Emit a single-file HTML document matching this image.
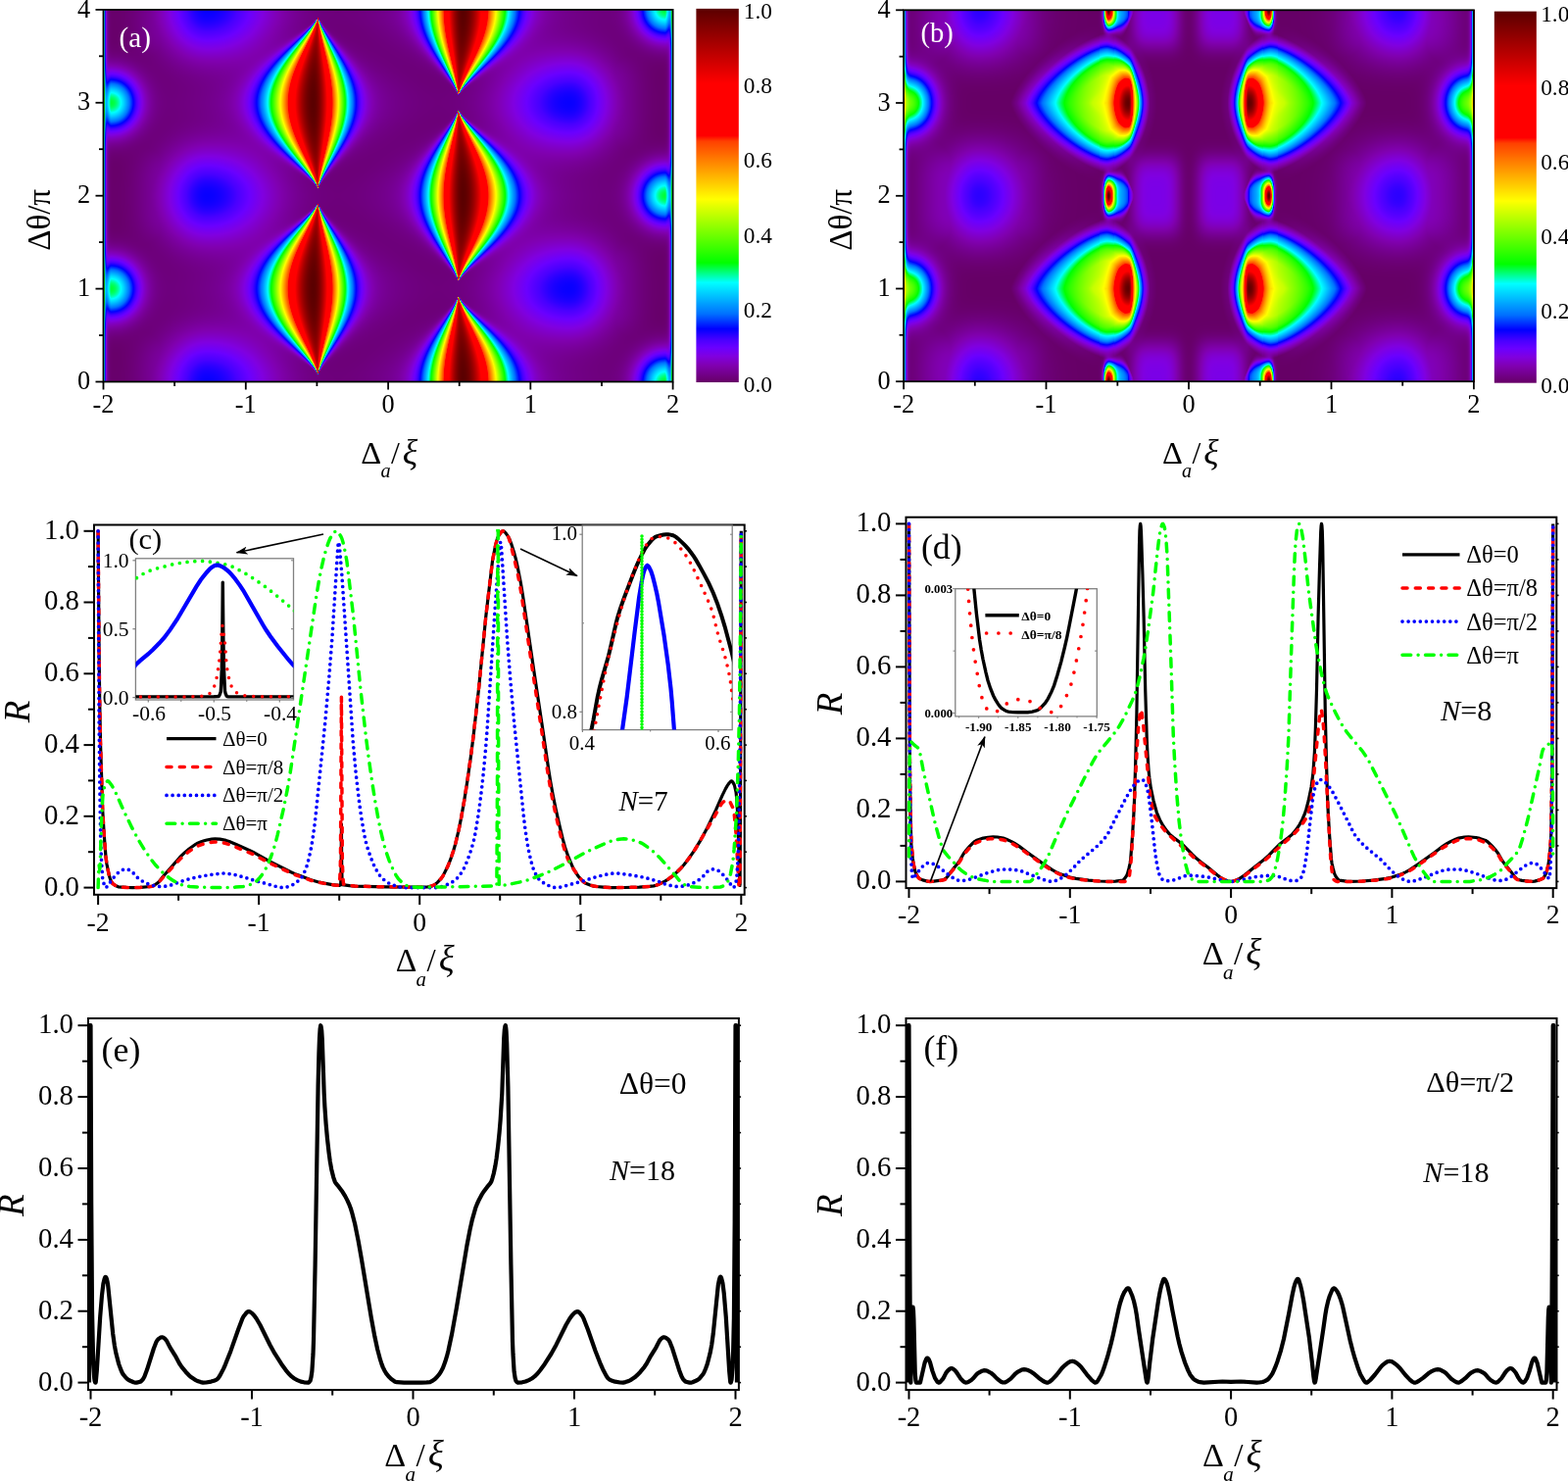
<!DOCTYPE html>
<html><head><meta charset="utf-8"><title>figure</title>
<style>
html,body{margin:0;padding:0;background:#fff;}
body{width:1600px;height:1511px;position:relative;overflow:hidden;}
canvas{position:absolute;background:#660066;}
</style></head><body>
<canvas id="ha" width="582" height="381" style="left:105px;top:9px;width:582px;height:381px"></canvas>
<canvas id="hb" width="583" height="380" style="left:922px;top:10px;width:583px;height:380px"></canvas>
<svg xmlns="http://www.w3.org/2000/svg" width="1600" height="1511" viewBox="0 0 1600 1511" style="position:absolute;left:0;top:0" font-family="'Liberation Serif','Times New Roman',serif">
<defs><linearGradient id="cb" x1="0" y1="1" x2="0" y2="0"><stop offset="0.0" stop-color="#660066"/><stop offset="0.045" stop-color="#8000b0"/><stop offset="0.07" stop-color="#8000e0"/><stop offset="0.093" stop-color="#6a00ff"/><stop offset="0.114" stop-color="#4800ff"/><stop offset="0.143" stop-color="#0000ff"/><stop offset="0.183" stop-color="#0070ff"/><stop offset="0.267" stop-color="#00ffff"/><stop offset="0.32" stop-color="#00ff00"/><stop offset="0.49" stop-color="#ffff00"/><stop offset="0.645" stop-color="#ff4000"/><stop offset="0.66" stop-color="#ff0000"/><stop offset="0.8" stop-color="#ff0000"/><stop offset="1.0" stop-color="#5a0000"/></linearGradient>
<clipPath id="kc"><rect x="96" y="535.5" width="663.7" height="377.3"/></clipPath>
<clipPath id="kd"><rect x="924.5" y="527.7" width="663.8" height="378.4"/></clipPath>
<clipPath id="ke"><rect x="90" y="1039" width="663.9" height="379.1"/></clipPath>
<clipPath id="kf"><rect x="924.5" y="1039" width="664" height="379.1"/></clipPath>
<clipPath id="icl"><rect x="138.4" y="569.8" width="161.1" height="144.2"/></clipPath>
<clipPath id="icr"><rect x="594.2" y="536.1" width="153" height="208.5"/></clipPath>
<clipPath id="id"><rect x="974.8" y="600.7" width="144.5" height="130.2"/></clipPath>
<marker id="ah" viewBox="0 0 12 8" refX="11" refY="4" markerWidth="12" markerHeight="8" markerUnits="userSpaceOnUse" orient="auto"><path d="M0,0 L12,4 L0,8 L3,4 Z" fill="#000"/></marker>
</defs>
<rect x="710.4" y="8.85" width="43.4" height="381.2" fill="url(#cb)"/>
<text x="758.8" y="400.1" font-size="23.3" text-anchor="start" fill="#000" >0.0</text>
<text x="758.8" y="323.9" font-size="23.3" text-anchor="start" fill="#000" >0.2</text>
<text x="758.8" y="247.6" font-size="23.3" text-anchor="start" fill="#000" >0.4</text>
<text x="758.8" y="171.4" font-size="23.3" text-anchor="start" fill="#000" >0.6</text>
<text x="758.8" y="95.1" font-size="23.3" text-anchor="start" fill="#000" >0.8</text>
<text x="758.8" y="18.9" font-size="23.3" text-anchor="start" fill="#000" >1.0</text>
<rect x="1524.8" y="11.6" width="43" height="379.1" fill="url(#cb)"/>
<text x="1572.2" y="400.8" font-size="23.3" text-anchor="start" fill="#000" >0.0</text>
<text x="1572.2" y="324.9" font-size="23.3" text-anchor="start" fill="#000" >0.2</text>
<text x="1572.2" y="249.1" font-size="23.3" text-anchor="start" fill="#000" >0.4</text>
<text x="1572.2" y="173.3" font-size="23.3" text-anchor="start" fill="#000" >0.6</text>
<text x="1572.2" y="97.4" font-size="23.3" text-anchor="start" fill="#000" >0.8</text>
<text x="1572.2" y="21.6" font-size="23.3" text-anchor="start" fill="#000" >1.0</text>
<rect x="105.5" y="9.9" width="581.1" height="379.6" fill="none" stroke="#000" stroke-width="1.8"/>
<line x1="97.5" y1="389.5" x2="105.5" y2="389.5" stroke="#000" stroke-width="1.8" />
<text x="92.1" y="397.1" font-size="26.3" text-anchor="end" fill="#000" >0</text>
<line x1="97.5" y1="294.6" x2="105.5" y2="294.6" stroke="#000" stroke-width="1.8" />
<text x="92.1" y="302.2" font-size="26.3" text-anchor="end" fill="#000" >1</text>
<line x1="97.5" y1="199.7" x2="105.5" y2="199.7" stroke="#000" stroke-width="1.8" />
<text x="92.1" y="207.3" font-size="26.3" text-anchor="end" fill="#000" >2</text>
<line x1="97.5" y1="104.8" x2="105.5" y2="104.8" stroke="#000" stroke-width="1.8" />
<text x="92.1" y="112.4" font-size="26.3" text-anchor="end" fill="#000" >3</text>
<line x1="97.5" y1="9.9" x2="105.5" y2="9.9" stroke="#000" stroke-width="1.8" />
<text x="92.1" y="17.5" font-size="26.3" text-anchor="end" fill="#000" >4</text>
<line x1="101" y1="342.1" x2="105.5" y2="342.1" stroke="#000" stroke-width="1.8" />
<line x1="101" y1="247.1" x2="105.5" y2="247.1" stroke="#000" stroke-width="1.8" />
<line x1="101" y1="152.2" x2="105.5" y2="152.2" stroke="#000" stroke-width="1.8" />
<line x1="101" y1="57.3" x2="105.5" y2="57.3" stroke="#000" stroke-width="1.8" />
<line x1="105.5" y1="389.5" x2="105.5" y2="397.5" stroke="#000" stroke-width="1.8" />
<text x="105.5" y="420.9" font-size="26.3" text-anchor="middle" fill="#000" >-2</text>
<line x1="250.8" y1="389.5" x2="250.8" y2="397.5" stroke="#000" stroke-width="1.8" />
<text x="250.8" y="420.9" font-size="26.3" text-anchor="middle" fill="#000" >-1</text>
<line x1="396.1" y1="389.5" x2="396.1" y2="397.5" stroke="#000" stroke-width="1.8" />
<text x="396.1" y="420.9" font-size="26.3" text-anchor="middle" fill="#000" >0</text>
<line x1="541.3" y1="389.5" x2="541.3" y2="397.5" stroke="#000" stroke-width="1.8" />
<text x="541.3" y="420.9" font-size="26.3" text-anchor="middle" fill="#000" >1</text>
<line x1="686.6" y1="389.5" x2="686.6" y2="397.5" stroke="#000" stroke-width="1.8" />
<text x="686.6" y="420.9" font-size="26.3" text-anchor="middle" fill="#000" >2</text>
<line x1="178.1" y1="389.5" x2="178.1" y2="394" stroke="#000" stroke-width="1.8" />
<line x1="323.4" y1="389.5" x2="323.4" y2="394" stroke="#000" stroke-width="1.8" />
<line x1="468.7" y1="389.5" x2="468.7" y2="394" stroke="#000" stroke-width="1.8" />
<line x1="614" y1="389.5" x2="614" y2="394" stroke="#000" stroke-width="1.8" />
<rect x="922.1" y="10.3" width="581.8" height="378.9" fill="none" stroke="#000" stroke-width="1.8"/>
<line x1="914.1" y1="389.2" x2="922.1" y2="389.2" stroke="#000" stroke-width="1.8" />
<text x="908.7" y="396.8" font-size="26.3" text-anchor="end" fill="#000" >0</text>
<line x1="914.1" y1="294.5" x2="922.1" y2="294.5" stroke="#000" stroke-width="1.8" />
<text x="908.7" y="302.1" font-size="26.3" text-anchor="end" fill="#000" >1</text>
<line x1="914.1" y1="199.8" x2="922.1" y2="199.8" stroke="#000" stroke-width="1.8" />
<text x="908.7" y="207.3" font-size="26.3" text-anchor="end" fill="#000" >2</text>
<line x1="914.1" y1="105" x2="922.1" y2="105" stroke="#000" stroke-width="1.8" />
<text x="908.7" y="112.6" font-size="26.3" text-anchor="end" fill="#000" >3</text>
<line x1="914.1" y1="10.3" x2="922.1" y2="10.3" stroke="#000" stroke-width="1.8" />
<text x="908.7" y="17.9" font-size="26.3" text-anchor="end" fill="#000" >4</text>
<line x1="917.6" y1="341.8" x2="922.1" y2="341.8" stroke="#000" stroke-width="1.8" />
<line x1="917.6" y1="247.1" x2="922.1" y2="247.1" stroke="#000" stroke-width="1.8" />
<line x1="917.6" y1="152.4" x2="922.1" y2="152.4" stroke="#000" stroke-width="1.8" />
<line x1="917.6" y1="57.7" x2="922.1" y2="57.7" stroke="#000" stroke-width="1.8" />
<line x1="922.1" y1="389.2" x2="922.1" y2="397.2" stroke="#000" stroke-width="1.8" />
<text x="922.1" y="420.9" font-size="26.3" text-anchor="middle" fill="#000" >-2</text>
<line x1="1067.5" y1="389.2" x2="1067.5" y2="397.2" stroke="#000" stroke-width="1.8" />
<text x="1067.5" y="420.9" font-size="26.3" text-anchor="middle" fill="#000" >-1</text>
<line x1="1213" y1="389.2" x2="1213" y2="397.2" stroke="#000" stroke-width="1.8" />
<text x="1213" y="420.9" font-size="26.3" text-anchor="middle" fill="#000" >0</text>
<line x1="1358.5" y1="389.2" x2="1358.5" y2="397.2" stroke="#000" stroke-width="1.8" />
<text x="1358.5" y="420.9" font-size="26.3" text-anchor="middle" fill="#000" >1</text>
<line x1="1503.9" y1="389.2" x2="1503.9" y2="397.2" stroke="#000" stroke-width="1.8" />
<text x="1503.9" y="420.9" font-size="26.3" text-anchor="middle" fill="#000" >2</text>
<line x1="994.8" y1="389.2" x2="994.8" y2="393.7" stroke="#000" stroke-width="1.8" />
<line x1="1140.3" y1="389.2" x2="1140.3" y2="393.7" stroke="#000" stroke-width="1.8" />
<line x1="1285.7" y1="389.2" x2="1285.7" y2="393.7" stroke="#000" stroke-width="1.8" />
<line x1="1431.2" y1="389.2" x2="1431.2" y2="393.7" stroke="#000" stroke-width="1.8" />
<text x="121.5" y="47.6" font-size="29.2" text-anchor="start" fill="#fff" >(a)</text>
<text x="939.5" y="42.8" font-size="28.6" text-anchor="start" fill="#fff" >(b)</text>
<text transform="translate(51,224.4) rotate(-90)" font-size="33" text-anchor="middle">&#916;&#952;/&#960;</text>
<text transform="translate(868.7,224.4) rotate(-90)" font-size="33" text-anchor="middle">&#916;&#952;/&#960;</text>
<text x="368.2" y="472.8" font-size="32.6">&#916;</text>
<text x="388.4" y="487.1" font-size="20.2" font-style="italic">a</text>
<text x="398.9" y="472.8" font-size="31.9">/</text>
<text x="410.8" y="472.8" font-size="35.9" font-style="italic">&#958;</text>
<text x="1185.9" y="472.8" font-size="32.4">&#916;</text>
<text x="1205.9" y="487.1" font-size="20.1" font-style="italic">a</text>
<text x="1216.4" y="472.8" font-size="31.8">/</text>
<text x="1228.2" y="472.8" font-size="35.6" font-style="italic">&#958;</text>
<line x1="85.5" y1="905.6" x2="96" y2="905.6" stroke="#000" stroke-width="2.0" />
<text x="81" y="913.5" font-size="28.8" text-anchor="end" fill="#000" >0.0</text>
<line x1="85.5" y1="832.8" x2="96" y2="832.8" stroke="#000" stroke-width="2.0" />
<text x="81" y="840.7" font-size="28.8" text-anchor="end" fill="#000" >0.2</text>
<line x1="85.5" y1="760.1" x2="96" y2="760.1" stroke="#000" stroke-width="2.0" />
<text x="81" y="768" font-size="28.8" text-anchor="end" fill="#000" >0.4</text>
<line x1="85.5" y1="687.3" x2="96" y2="687.3" stroke="#000" stroke-width="2.0" />
<text x="81" y="695.2" font-size="28.8" text-anchor="end" fill="#000" >0.6</text>
<line x1="85.5" y1="614.5" x2="96" y2="614.5" stroke="#000" stroke-width="2.0" />
<text x="81" y="622.4" font-size="28.8" text-anchor="end" fill="#000" >0.8</text>
<line x1="85.5" y1="541.8" x2="96" y2="541.8" stroke="#000" stroke-width="2.0" />
<text x="81" y="549.6" font-size="28.8" text-anchor="end" fill="#000" >1.0</text>
<line x1="90" y1="869.2" x2="96" y2="869.2" stroke="#000" stroke-width="2.0" />
<line x1="90" y1="796.4" x2="96" y2="796.4" stroke="#000" stroke-width="2.0" />
<line x1="90" y1="723.7" x2="96" y2="723.7" stroke="#000" stroke-width="2.0" />
<line x1="90" y1="650.9" x2="96" y2="650.9" stroke="#000" stroke-width="2.0" />
<line x1="90" y1="578.1" x2="96" y2="578.1" stroke="#000" stroke-width="2.0" />
<line x1="914" y1="899.4" x2="924.5" y2="899.4" stroke="#000" stroke-width="2.0" />
<text x="909.5" y="907.3" font-size="28.8" text-anchor="end" fill="#000" >0.0</text>
<line x1="914" y1="826.4" x2="924.5" y2="826.4" stroke="#000" stroke-width="2.0" />
<text x="909.5" y="834.3" font-size="28.8" text-anchor="end" fill="#000" >0.2</text>
<line x1="914" y1="753.4" x2="924.5" y2="753.4" stroke="#000" stroke-width="2.0" />
<text x="909.5" y="761.3" font-size="28.8" text-anchor="end" fill="#000" >0.4</text>
<line x1="914" y1="680.4" x2="924.5" y2="680.4" stroke="#000" stroke-width="2.0" />
<text x="909.5" y="688.3" font-size="28.8" text-anchor="end" fill="#000" >0.6</text>
<line x1="914" y1="607.4" x2="924.5" y2="607.4" stroke="#000" stroke-width="2.0" />
<text x="909.5" y="615.3" font-size="28.8" text-anchor="end" fill="#000" >0.8</text>
<line x1="914" y1="534.4" x2="924.5" y2="534.4" stroke="#000" stroke-width="2.0" />
<text x="909.5" y="542.3" font-size="28.8" text-anchor="end" fill="#000" >1.0</text>
<line x1="918.5" y1="862.9" x2="924.5" y2="862.9" stroke="#000" stroke-width="2.0" />
<line x1="918.5" y1="789.9" x2="924.5" y2="789.9" stroke="#000" stroke-width="2.0" />
<line x1="918.5" y1="716.9" x2="924.5" y2="716.9" stroke="#000" stroke-width="2.0" />
<line x1="918.5" y1="643.9" x2="924.5" y2="643.9" stroke="#000" stroke-width="2.0" />
<line x1="918.5" y1="570.9" x2="924.5" y2="570.9" stroke="#000" stroke-width="2.0" />
<line x1="79.5" y1="1410.6" x2="90" y2="1410.6" stroke="#000" stroke-width="2.0" />
<text x="75" y="1418.5" font-size="28.8" text-anchor="end" fill="#000" >0.0</text>
<line x1="79.5" y1="1337.7" x2="90" y2="1337.7" stroke="#000" stroke-width="2.0" />
<text x="75" y="1345.6" font-size="28.8" text-anchor="end" fill="#000" >0.2</text>
<line x1="79.5" y1="1264.9" x2="90" y2="1264.9" stroke="#000" stroke-width="2.0" />
<text x="75" y="1272.8" font-size="28.8" text-anchor="end" fill="#000" >0.4</text>
<line x1="79.5" y1="1192" x2="90" y2="1192" stroke="#000" stroke-width="2.0" />
<text x="75" y="1199.9" font-size="28.8" text-anchor="end" fill="#000" >0.6</text>
<line x1="79.5" y1="1119.1" x2="90" y2="1119.1" stroke="#000" stroke-width="2.0" />
<text x="75" y="1127" font-size="28.8" text-anchor="end" fill="#000" >0.8</text>
<line x1="79.5" y1="1046.2" x2="90" y2="1046.2" stroke="#000" stroke-width="2.0" />
<text x="75" y="1054.2" font-size="28.8" text-anchor="end" fill="#000" >1.0</text>
<line x1="84" y1="1374.2" x2="90" y2="1374.2" stroke="#000" stroke-width="2.0" />
<line x1="84" y1="1301.3" x2="90" y2="1301.3" stroke="#000" stroke-width="2.0" />
<line x1="84" y1="1228.4" x2="90" y2="1228.4" stroke="#000" stroke-width="2.0" />
<line x1="84" y1="1155.6" x2="90" y2="1155.6" stroke="#000" stroke-width="2.0" />
<line x1="84" y1="1082.7" x2="90" y2="1082.7" stroke="#000" stroke-width="2.0" />
<line x1="914" y1="1410.6" x2="924.5" y2="1410.6" stroke="#000" stroke-width="2.0" />
<text x="909.5" y="1418.5" font-size="28.8" text-anchor="end" fill="#000" >0.0</text>
<line x1="914" y1="1337.7" x2="924.5" y2="1337.7" stroke="#000" stroke-width="2.0" />
<text x="909.5" y="1345.6" font-size="28.8" text-anchor="end" fill="#000" >0.2</text>
<line x1="914" y1="1264.9" x2="924.5" y2="1264.9" stroke="#000" stroke-width="2.0" />
<text x="909.5" y="1272.8" font-size="28.8" text-anchor="end" fill="#000" >0.4</text>
<line x1="914" y1="1192" x2="924.5" y2="1192" stroke="#000" stroke-width="2.0" />
<text x="909.5" y="1199.9" font-size="28.8" text-anchor="end" fill="#000" >0.6</text>
<line x1="914" y1="1119.1" x2="924.5" y2="1119.1" stroke="#000" stroke-width="2.0" />
<text x="909.5" y="1127" font-size="28.8" text-anchor="end" fill="#000" >0.8</text>
<line x1="914" y1="1046.2" x2="924.5" y2="1046.2" stroke="#000" stroke-width="2.0" />
<text x="909.5" y="1054.2" font-size="28.8" text-anchor="end" fill="#000" >1.0</text>
<line x1="918.5" y1="1374.2" x2="924.5" y2="1374.2" stroke="#000" stroke-width="2.0" />
<line x1="918.5" y1="1301.3" x2="924.5" y2="1301.3" stroke="#000" stroke-width="2.0" />
<line x1="918.5" y1="1228.4" x2="924.5" y2="1228.4" stroke="#000" stroke-width="2.0" />
<line x1="918.5" y1="1155.6" x2="924.5" y2="1155.6" stroke="#000" stroke-width="2.0" />
<line x1="918.5" y1="1082.7" x2="924.5" y2="1082.7" stroke="#000" stroke-width="2.0" />
<path d="M100.1,541.8 101.1,666.3 101.7,713.9 102.5,757.1 104.7,826.4 106.3,852.7 107.9,873.2 108.9,881.3 111.3,893.1 112.3,896.3 113.9,899.8 114.9,901.5 118.3,903.8 120.7,904.8 129.1,905.4 135.3,905.6 143.3,905.4 153.7,904.5 155.7,904.0 157.7,903.0 160.8,900.9 162.1,899.7 166.4,894.3 183.5,874.7 188.7,869.7 193.1,866.0 199.7,861.3 201.7,860.2 205.3,858.7 208.3,857.7 211.1,857.0 216.1,856.1 219.5,855.8 224.3,856.1 230.5,857.4 233.9,858.6 241.5,861.7 257.9,869.1 275.3,878.9 296.3,889.5 300.5,891.4 306.3,893.6 317.3,897.7 324.3,899.7 330.9,901.1 338.9,902.6 346.5,903.4 347.7,902.7 347.7,902.3 348.1,883.8 348.4,840.8 348.7,882.4 349.1,902.7 356.7,903.7 362.1,904.1 393.7,904.8 429.7,905.2 436.7,904.9 439.1,904.4 443.1,902.9 444.7,901.8 446.3,900.4 450.1,896.4 452.3,893.1 456.7,884.3 459.5,877.4 462.7,868.0 464.9,860.2 468.1,846.9 470.7,833.9 473.7,816.9 476.7,797.9 480.4,772.1 483.1,750.7 488.5,702.9 495.9,627.9 502.5,572.4 505.1,558.7 507.3,550.2 508.3,547.7 510.5,544.0 511.7,542.5 512.9,541.8 513.5,541.8 514.3,542.2 516.1,543.9 518.7,547.6 520.1,550.5 522.1,555.9 524.5,563.4 526.3,570.2 528.1,578.1 531.3,594.2 533.5,607.4 545.5,689.1 554.5,748.7 559.7,784.8 561.7,797.3 564.1,810.5 567.1,825.2 570.9,842.1 574.1,855.4 576.5,864.2 579.5,873.0 583.5,882.7 585.5,886.9 588.3,891.4 590.3,894.2 592.1,896.3 595.1,899.5 597.1,900.9 602.1,903.0 605.9,904.1 608.3,904.5 615.7,905.1 623.9,905.6 637.1,905.5 652.3,905.1 662.7,904.4 667.1,903.9 669.5,903.3 673.1,901.8 678.9,898.9 682.9,896.3 686.7,893.4 690.5,890.0 694.7,885.8 697.7,882.5 700.7,878.8 708.1,868.4 714.5,857.9 721.9,844.2 730.5,826.4 737.1,811.4 740.3,804.9 742.3,801.4 744.0,799.0 745.5,797.4 746.1,796.9 746.7,796.8 747.7,797.9 749.1,800.4 749.5,801.5 751.1,808.5 751.5,812.4 752.4,825.6 752.9,837.4 754.7,896.0 755.1,903.4 755.5,826.5 756.3,541.8" stroke="#000" stroke-width="3.2" fill="none" stroke-linejoin="round" clip-path="url(#kc)" />
<path d="M100.1,541.8 101.1,666.3 101.7,713.9 102.5,757.1 104.7,826.4 106.3,852.7 107.9,873.2 108.9,881.3 111.3,893.1 112.3,896.3 113.9,899.8 114.9,901.5 118.3,903.8 120.7,904.8 129.1,905.4 135.3,905.6 143.3,905.4 153.7,904.6 155.7,904.1 157.7,903.2 160.8,901.2 162.1,900.0 166.4,895.1 183.5,876.7 188.7,872.0 193.1,868.5 199.7,864.2 201.7,863.2 205.3,861.8 211.1,860.1 216.1,859.3 219.5,859.0 224.3,859.3 230.5,860.5 233.9,861.6 241.5,864.6 257.9,871.5 275.3,880.6 296.3,890.5 300.5,892.3 306.3,894.4 317.3,898.2 324.9,900.2 333.7,901.8 340.9,902.9 346.2,903.4 346.5,901.2 346.9,894.0 347.3,883.8 347.5,872.4 348.4,710.9 349.3,874.5 349.5,883.8 349.9,893.6 350.3,900.1 350.6,902.0 358.1,903.6 362.1,904.1 392.3,904.8 429.3,905.2 436.7,904.9 439.1,904.4 443.1,902.9 444.7,901.8 446.3,900.4 450.1,896.4 452.3,893.1 456.7,884.3 459.5,877.4 462.7,868.0 464.9,860.2 468.1,846.9 470.7,833.9 473.7,816.9 476.7,797.9 480.4,772.1 483.1,750.7 488.5,702.9 495.9,627.9 502.5,572.4 505.1,558.7 506.3,553.6 507.5,549.6 508.5,547.4 510.9,543.5 512.1,542.2 513.3,541.8 514.7,542.3 516.3,543.9 518.4,547.2 519.3,549.3 520.5,553.4 524.7,569.8 528.5,586.6 530.5,597.0 532.5,609.4 543.9,687.2 553.3,749.4 558.3,784.3 561.9,805.8 564.3,818.1 567.1,831.2 571.3,849.3 574.1,860.4 576.5,868.3 579.1,875.7 580.9,879.8 583.5,884.1 590.7,894.6 593.1,897.4 595.3,899.7 596.9,900.8 599.1,901.8 602.9,903.2 606.1,904.1 614.3,905.0 622.5,905.6 644.9,905.3 654.5,905.0 663.9,904.3 667.9,903.8 671.3,902.6 678.5,899.2 685.3,894.5 688.3,892.0 691.5,889.0 695.7,884.8 698.5,881.6 703.9,874.5 709.5,866.2 730.3,830.9 735.9,820.7 737.5,818.7 739.1,817.5 740.9,816.8 743.3,816.5 744.1,816.9 745.1,818.3 748.1,824.8 748.7,827.2 749.3,831.2 750.9,848.5 753.9,902.9 754.1,905.2 754.3,905.6 754.8,905.6 755.1,880.4 755.7,746.6 756.3,541.8" stroke="#f00" stroke-width="3.5" fill="none" stroke-dasharray="5,8.3" stroke-linecap="round" clip-path="url(#kc)" />
<path d="M100.1,541.8 101.1,733.1 101.7,793.6 102.7,857.1 103.5,878.2 104.7,896.5 105.0,898.3 106.5,903.1 107.1,904.7 107.7,905.6 108.3,905.6 108.5,905.4 115.7,895.6 120.3,890.6 122.1,889.1 124.1,887.9 126.1,887.1 127.9,886.7 129.3,886.8 130.9,887.2 134.6,889.2 135.9,890.5 138.9,894.1 140.3,895.4 144.1,898.3 147.5,900.2 151.5,902.0 154.7,903.1 159.7,904.1 163.5,904.5 168.3,904.3 174.3,903.0 177.1,902.2 183.3,899.7 188.5,898.1 194.5,896.4 200.7,894.9 207.1,893.7 215.9,892.3 225.3,891.1 228.5,891.0 231.5,891.2 240.3,892.6 249.1,895.0 260.9,898.7 273.3,902.0 280.9,904.2 285.3,905.2 288.7,905.6 290.3,905.5 292.3,905.1 298.9,902.6 301.1,901.2 303.5,899.4 306.7,896.7 307.7,895.4 309.7,891.9 312.3,886.0 313.7,881.5 315.5,874.3 317.3,866.1 318.7,858.0 320.7,844.1 321.9,834.1 331.7,737.7 335.7,692.3 338.9,651.2 344.7,559.5 345.1,555.0 345.5,553.1 345.7,553.2 345.9,553.9 346.5,558.5 348.9,587.1 360.3,757.5 363.3,790.4 366.7,819.5 368.7,833.7 371.5,850.4 373.1,858.1 375.3,865.9 378.3,874.7 382.5,885.0 386.9,892.3 388.7,894.7 390.3,896.4 394.3,899.5 397.5,901.5 405.1,904.4 409.3,905.4 411.5,905.6 445.1,905.6 447.1,905.4 449.5,904.9 453.3,903.6 459.7,901.1 463.5,898.5 467.3,895.2 470.1,891.4 473.7,885.4 475.7,880.8 479.1,872.0 481.3,865.2 483.3,858.1 484.5,852.6 485.9,844.7 487.9,832.4 489.7,819.5 491.7,803.3 493.5,786.5 495.5,764.7 497.1,744.1 504.3,633.2 507.9,581.7 509.9,558.5 510.5,553.9 510.7,553.2 510.9,553.1 511.3,555.0 511.7,559.5 517.5,651.2 520.7,692.3 524.7,737.7 534.5,834.1 535.7,844.1 537.7,858.0 539.1,866.1 540.9,874.3 542.7,881.5 544.1,886.0 546.7,891.9 548.7,895.4 549.7,896.7 552.9,899.4 555.3,901.2 557.5,902.6 564.1,905.1 566.1,905.5 567.7,905.6 571.1,905.2 575.5,904.2 583.1,902.0 595.5,898.7 607.3,895.0 616.1,892.6 624.9,891.2 627.9,891.0 631.1,891.1 640.5,892.3 649.3,893.7 655.7,894.9 661.9,896.4 667.9,898.1 673.1,899.7 679.3,902.2 682.1,903.0 688.1,904.3 692.9,904.5 696.7,904.1 701.7,903.1 704.9,902.0 708.9,900.2 712.3,898.3 716.1,895.4 717.5,894.1 720.5,890.5 721.8,889.2 725.5,887.2 727.1,886.8 728.5,886.7 730.3,887.1 732.3,887.9 734.3,889.1 736.1,890.6 740.7,895.6 747.9,905.4 748.1,905.6 748.7,905.6 749.3,904.7 749.9,903.1 751.4,898.3 751.7,896.5 752.9,878.2 753.7,857.1 754.7,793.6 755.3,733.1 756.3,541.8" stroke="#00f" stroke-width="3.7" fill="none" stroke-dasharray="0,6.1" stroke-linecap="round" clip-path="url(#kc)" />
<path d="M100.1,905.6 100.8,883.8 100.9,882.6 101.1,882.7 101.7,886.5 101.9,886.0 102.1,883.8 103.7,832.5 104.9,812.4 105.3,808.5 106.9,801.5 107.3,800.4 108.7,797.9 109.7,796.8 110.3,796.9 110.9,797.4 112.4,799.0 114.1,801.4 116.1,804.9 119.3,811.4 125.9,826.4 134.5,844.2 141.9,857.9 148.3,868.4 155.7,878.8 158.7,882.5 161.7,885.8 165.9,890.0 169.7,893.4 173.5,896.3 177.5,898.9 183.3,901.8 186.9,903.3 189.3,903.9 193.7,904.4 204.1,905.1 219.3,905.5 232.5,905.6 240.7,905.1 248.1,904.5 250.5,904.1 254.3,903.0 259.3,900.9 261.3,899.5 264.3,896.3 266.1,894.2 268.1,891.4 270.9,886.9 272.5,883.6 276.5,874.0 279.3,866.1 281.1,860.0 283.1,852.2 289.3,825.2 293.1,806.2 296.1,788.8 322.3,611.3 325.7,591.0 328.1,579.0 330.3,569.4 332.3,562.0 334.9,554.1 336.7,549.6 338.1,547.0 340.9,543.2 342.1,542.2 343.1,541.8 344.1,542.0 345.5,543.4 347.9,547.4 348.9,549.6 350.1,553.6 351.3,558.7 353.9,572.4 360.5,627.9 367.9,702.9 373.5,752.4 376.1,772.6 379.9,799.2 382.9,818.1 385.9,835.0 388.5,847.8 391.7,861.0 393.9,868.7 397.1,877.9 399.9,884.7 404.3,893.4 406.5,896.6 410.5,900.8 412.1,902.1 413.5,903.0 417.3,904.4 419.7,904.9 426.1,905.2 459.3,904.9 506.9,903.8 507.5,796.4 507.9,541.8 508.3,541.8 508.7,796.4 509.3,903.8 510.2,903.4 515.9,902.8 521.3,901.9 533.1,899.4 539.5,897.6 550.7,893.4 556.1,891.3 560.3,889.4 581.1,878.9 598.3,869.2 614.5,861.9 622.3,858.6 625.7,857.5 631.9,856.2 636.5,855.8 639.9,856.0 645.1,856.9 650.5,858.5 654.5,860.2 656.5,861.2 662.9,865.7 667.9,869.9 673.7,875.6 690.1,894.4 694.5,899.9 697.1,902.0 699.9,903.6 701.5,904.3 702.8,904.5 712.7,905.3 720.2,905.6 726.1,905.5 735.1,904.9 736.5,904.5 738.1,903.8 741.5,901.5 742.5,899.8 744.1,896.3 745.5,891.4 747.4,881.6 748.3,875.2 749.1,866.4 751.5,830.7 753.3,778.4 754.5,726.1 755.6,632.7 756.3,541.8" stroke="#0f0" stroke-width="3.5" fill="none" stroke-dasharray="8.7,7.4,0,7.4" stroke-linecap="round" clip-path="url(#kc)" />
<rect x="96" y="535.5" width="663.7" height="377.3" fill="none" stroke="#000" stroke-width="2.0"/>
<line x1="759.7" y1="905.6" x2="761.9" y2="905.6" stroke="#000" stroke-width="1.6" />
<line x1="759.7" y1="869.2" x2="761.9" y2="869.2" stroke="#000" stroke-width="1.6" />
<line x1="759.7" y1="832.8" x2="761.9" y2="832.8" stroke="#000" stroke-width="1.6" />
<line x1="759.7" y1="796.4" x2="761.9" y2="796.4" stroke="#000" stroke-width="1.6" />
<line x1="759.7" y1="760.1" x2="761.9" y2="760.1" stroke="#000" stroke-width="1.6" />
<line x1="759.7" y1="723.7" x2="761.9" y2="723.7" stroke="#000" stroke-width="1.6" />
<line x1="759.7" y1="687.3" x2="761.9" y2="687.3" stroke="#000" stroke-width="1.6" />
<line x1="759.7" y1="650.9" x2="761.9" y2="650.9" stroke="#000" stroke-width="1.6" />
<line x1="759.7" y1="614.5" x2="761.9" y2="614.5" stroke="#000" stroke-width="1.6" />
<line x1="759.7" y1="578.1" x2="761.9" y2="578.1" stroke="#000" stroke-width="1.6" />
<line x1="759.7" y1="541.8" x2="761.9" y2="541.8" stroke="#000" stroke-width="1.6" />
<line x1="100.1" y1="912.8" x2="100.1" y2="923.1" stroke="#000" stroke-width="2.0" />
<text x="100.1" y="950" font-size="27.7" text-anchor="middle" fill="#000" >-2</text>
<line x1="264.1" y1="912.8" x2="264.1" y2="923.1" stroke="#000" stroke-width="2.0" />
<text x="264.1" y="950" font-size="27.7" text-anchor="middle" fill="#000" >-1</text>
<line x1="428.2" y1="912.8" x2="428.2" y2="923.1" stroke="#000" stroke-width="2.0" />
<text x="428.2" y="950" font-size="27.7" text-anchor="middle" fill="#000" >0</text>
<line x1="592.2" y1="912.8" x2="592.2" y2="923.1" stroke="#000" stroke-width="2.0" />
<text x="592.2" y="950" font-size="27.7" text-anchor="middle" fill="#000" >1</text>
<line x1="756.3" y1="912.8" x2="756.3" y2="923.1" stroke="#000" stroke-width="2.0" />
<text x="756.3" y="950" font-size="27.7" text-anchor="middle" fill="#000" >2</text>
<line x1="182.1" y1="912.8" x2="182.1" y2="918.8" stroke="#000" stroke-width="2.0" />
<line x1="346.2" y1="912.8" x2="346.2" y2="918.8" stroke="#000" stroke-width="2.0" />
<line x1="510.2" y1="912.8" x2="510.2" y2="918.8" stroke="#000" stroke-width="2.0" />
<line x1="674.3" y1="912.8" x2="674.3" y2="918.8" stroke="#000" stroke-width="2.0" />
<text transform="translate(30.1,726) rotate(-90)" font-size="37" font-style="italic" text-anchor="middle">R</text>
<text x="403.8" y="990.9" font-size="33.6">&#916;</text>
<text x="424.6" y="1005.7" font-size="20.8" font-style="italic">a</text>
<text x="435.5" y="990.9" font-size="32.9">/</text>
<text x="447.8" y="990.9" font-size="37" font-style="italic">&#958;</text>
<text x="131.5" y="560.1" font-size="30.4" text-anchor="start" fill="#000" >(c)</text>
<text x="631.5" y="826.5" font-size="29"><tspan font-style="italic">N</tspan>=7</text>
<path d="M170,753.6 L220.5,753.6" stroke="#000" stroke-width="3.2" fill="none" stroke-linejoin="round"/>
<text x="226.9" y="760.6" font-size="21" text-anchor="start" fill="#000" >&#916;&#952;=0</text>
<path d="M170,782.5 L220.5,782.5" stroke="#f00" stroke-width="3.5" fill="none" stroke-dasharray="5,8.3" stroke-linecap="round"/>
<text x="226.9" y="789.5" font-size="21" text-anchor="start" fill="#000" >&#916;&#952;=&#960;/8</text>
<path d="M170,811.4 L220.5,811.4" stroke="#00f" stroke-width="3.7" fill="none" stroke-dasharray="0,6.1" stroke-linecap="round"/>
<text x="226.9" y="818.4" font-size="21" text-anchor="start" fill="#000" >&#916;&#952;=&#960;/2</text>
<path d="M170,840.3 L220.5,840.3" stroke="#0f0" stroke-width="3.5" fill="none" stroke-dasharray="8.7,7.4,0,7.4" stroke-linecap="round"/>
<text x="226.9" y="847.3" font-size="21" text-anchor="start" fill="#000" >&#916;&#952;=&#960;</text>
<path d="M927.5,534.4 928.5,791.7 929.1,834.4 929.9,862.2 931.3,875.5 932.1,881.3 933.7,888.4 934.6,891.0 936.7,894.9 938.1,896.4 941.5,897.9 946.3,899.1 949.0,899.4 952.7,899.2 960.1,898.2 963.6,897.2 965.1,896.2 966.9,894.2 970.7,888.9 978.1,879.8 979.7,877.3 983.1,871.3 985.9,867.5 989.5,863.3 992.9,860.0 994.9,858.3 996.1,857.6 998.3,856.7 1003.3,855.1 1008.3,854.3 1013.3,853.8 1017.7,854.0 1023.7,855.1 1026.9,856.2 1032.1,858.6 1035.7,860.7 1039.9,863.4 1048.7,870.0 1064.9,881.6 1073.5,887.4 1077.5,889.6 1081.3,891.4 1091.9,895.0 1097.9,896.4 1110.9,898.2 1122.3,899.0 1133.7,899.4 1138.3,899.1 1145.7,898.2 1147.1,897.0 1149.5,893.6 1150.5,891.3 1151.9,886.2 1153.1,881.0 1153.7,876.6 1155.5,853.3 1156.9,830.1 1157.5,817.1 1158.7,778.4 1159.9,727.8 1162.5,556.4 1162.9,541.7 1163.3,536.2 1163.7,534.4 1164.1,536.5 1164.5,542.6 1165.9,585.7 1167.1,629.1 1168.7,703.4 1170.3,755.9 1170.9,768.5 1172.1,786.3 1172.9,793.9 1174.3,803.9 1177.1,817.2 1180.3,828.8 1183.5,836.4 1186.7,842.2 1190.5,847.6 1193.5,851.1 1197.5,854.5 1206.7,861.6 1216.5,871.7 1219.9,874.9 1225.7,879.7 1232.1,884.6 1242.1,892.8 1244.5,894.6 1248.3,897.0 1252.5,898.7 1255.7,899.4 1258.3,899.1 1262.1,897.8 1264.9,896.4 1269.3,893.4 1280.3,884.4 1289.9,877.0 1294.7,872.7 1305.5,861.6 1314.7,854.5 1318.7,851.1 1321.9,847.3 1326.1,841.3 1328.7,836.4 1331.5,830.0 1332.9,825.5 1335.1,817.2 1338.1,802.7 1339.9,788.6 1341.4,767.3 1342.3,744.8 1343.5,703.7 1345.1,629.1 1346.5,579.2 1347.7,542.6 1348.1,536.5 1348.5,534.4 1348.9,536.2 1349.3,541.7 1349.7,556.4 1352.3,727.8 1353.5,778.4 1354.7,817.1 1355.3,830.1 1356.7,853.3 1358.5,876.6 1359.1,881.0 1360.3,886.2 1361.7,891.3 1362.7,893.6 1365.1,897.0 1366.5,898.2 1373.9,899.1 1378.5,899.4 1389.9,899.0 1401.3,898.2 1414.3,896.4 1420.3,895.0 1430.9,891.4 1434.7,889.6 1438.7,887.4 1447.3,881.6 1463.5,870.0 1472.3,863.4 1476.5,860.7 1480.1,858.6 1485.3,856.2 1488.5,855.1 1494.3,854.0 1498.5,853.8 1506.1,854.5 1509.9,855.4 1515.9,857.5 1517.3,858.3 1518.7,859.5 1523.3,863.9 1526.3,867.5 1528.9,871.0 1532.7,877.7 1534.5,880.3 1541.5,888.9 1545.9,894.9 1547.1,896.2 1548.1,897.0 1550.3,897.8 1553.1,898.4 1559.9,899.2 1563.2,899.4 1565.9,899.1 1570.7,897.9 1574.1,896.4 1574.9,895.7 1575.7,894.6 1577.9,890.4 1579.9,882.4 1580.7,877.1 1582.2,862.9 1582.7,852.2 1583.3,823.4 1583.7,791.7 1584.7,534.4" stroke="#000" stroke-width="3.2" fill="none" stroke-linejoin="round" clip-path="url(#kd)" />
<path d="M927.5,534.4 928.5,784.9 929.1,828.2 929.9,858.4 931.9,879.7 933.5,887.9 934.5,891.2 936.7,895.0 938.1,896.4 941.5,897.9 946.3,899.1 949.0,899.4 952.3,899.2 960.3,898.3 963.1,897.7 964.5,897.2 966.5,895.2 970.7,889.6 977.9,881.1 979.5,878.8 983.1,872.7 985.7,869.3 988.7,865.9 992.9,862.1 996.1,859.8 1002.7,857.2 1006.3,856.3 1010.7,855.8 1013.7,855.6 1018.3,855.9 1023.9,857.0 1027.5,858.3 1033.5,861.1 1040.9,865.5 1064.1,882.1 1071.7,887.1 1075.3,889.1 1080.5,891.7 1088.5,894.5 1094.1,896.1 1098.7,896.9 1111.1,898.3 1123.3,899.1 1130.1,899.4 1147.7,899.4 1149.1,899.0 1150.7,897.8 1151.7,896.8 1152.5,893.1 1153.5,884.9 1154.5,874.4 1156.7,834.8 1159.7,773.3 1160.9,752.4 1161.7,741.4 1162.7,731.9 1163.5,726.0 1164.1,724.1 1164.5,724.6 1165.1,727.2 1166.7,740.1 1172.5,801.6 1173.9,813.9 1174.5,817.8 1176.1,825.4 1177.1,829.3 1178.1,832.0 1181.3,837.8 1184.7,842.6 1189.1,848.0 1194.5,853.5 1209.3,866.5 1217.9,874.6 1220.5,876.8 1242.1,893.3 1245.7,895.7 1249.3,897.5 1254.5,899.2 1256.3,899.4 1258.1,899.2 1262.1,897.9 1264.3,896.9 1267.9,894.8 1270.9,892.8 1292.7,876.0 1302.1,867.2 1318.1,853.1 1321.9,849.3 1325.5,845.2 1329.5,839.9 1332.1,835.8 1334.1,831.9 1335.1,829.3 1336.7,822.7 1338.1,815.3 1339.7,801.6 1345.5,740.1 1347.1,727.2 1347.7,724.6 1348.1,724.1 1348.7,726.0 1349.5,731.9 1350.5,741.4 1351.3,752.4 1352.5,773.3 1355.5,834.8 1357.7,874.4 1358.9,886.8 1359.9,894.3 1360.3,896.2 1360.7,897.1 1362.1,898.3 1363.5,899.2 1364.5,899.4 1382.1,899.4 1395.9,898.7 1404.9,897.9 1414.7,896.7 1419.1,895.8 1424.3,894.3 1429.3,892.7 1431.9,891.7 1437.1,889.0 1440.7,887.0 1448.1,882.1 1471.3,865.5 1478.5,861.2 1484.7,858.3 1488.3,857.0 1493.7,855.9 1498.1,855.6 1503.9,856.1 1506.9,856.5 1509.3,857.1 1515.9,859.7 1519.1,861.9 1523.3,865.7 1526.3,869.0 1528.9,872.4 1532.7,878.8 1534.5,881.4 1541.5,889.6 1545.9,895.5 1547.1,896.7 1548.1,897.4 1549.9,897.9 1552.5,898.4 1560.1,899.2 1563.5,899.4 1565.9,899.1 1570.7,897.9 1574.1,896.4 1574.9,895.8 1575.7,894.7 1577.9,890.8 1579.9,882.4 1580.9,874.3 1582.2,859.2 1582.7,847.3 1583.7,784.9 1584.7,534.4" stroke="#f00" stroke-width="3.5" fill="none" stroke-dasharray="5,8.3" stroke-linecap="round" clip-path="url(#kd)" />
<path d="M927.5,534.4 928.3,768.3 928.9,841.2 929.1,855.6 930.1,885.1 930.5,890.3 931.1,894.9 931.5,896.5 932.5,895.4 939.1,886.6 942.7,882.6 944.8,881.1 946.7,880.5 948.3,880.4 949.7,880.5 951.5,881.1 955.7,883.1 958.7,885.2 969.7,894.0 974.9,897.0 976.7,897.8 978.5,898.3 982.7,898.5 986.6,897.9 991.5,896.5 1007.3,890.7 1014.9,888.4 1020.9,887.1 1027.1,886.9 1034.7,887.3 1041.1,888.4 1044.3,889.5 1057.7,894.8 1065.3,897.6 1069.5,898.8 1072.9,899.4 1074.3,899.4 1075.9,899.0 1081.1,896.8 1084.3,895.0 1088.5,891.9 1093.9,886.8 1103.3,876.9 1117.9,864.8 1121.9,861.0 1125.7,857.0 1128.7,853.3 1131.1,849.5 1136.1,839.3 1147.5,817.0 1151.9,808.9 1154.3,804.9 1157.5,800.5 1160.3,797.6 1162.9,795.9 1164.1,795.5 1165.3,795.4 1166.1,795.5 1166.9,796.3 1169.5,801.2 1170.7,805.0 1172.1,811.4 1175.3,837.9 1178.9,871.3 1180.3,880.2 1181.9,888.5 1182.9,891.9 1185.1,896.2 1186.1,897.2 1189.3,898.5 1193.1,898.7 1196.1,898.3 1198.7,897.6 1209.1,893.7 1211.1,893.2 1213.5,893.1 1222.9,893.7 1231.9,894.7 1249.3,898.6 1252.5,899.1 1255.3,899.4 1258.5,899.3 1262.1,898.7 1280.3,894.7 1287.1,893.9 1296.7,893.2 1300.7,893.2 1302.7,893.6 1313.9,897.7 1317.1,898.5 1319.5,898.7 1322.5,898.6 1323.9,898.2 1326.3,897.1 1327.1,896.2 1327.9,894.9 1329.7,890.8 1330.9,885.7 1332.7,875.6 1334.3,862.9 1336.3,843.4 1339.3,817.2 1340.3,810.3 1341.7,804.2 1342.9,800.7 1345.3,796.3 1346.1,795.5 1346.7,795.4 1347.9,795.5 1349.3,795.9 1351.9,797.6 1354.7,800.5 1357.9,804.9 1360.3,808.9 1364.7,817.0 1376.1,839.3 1380.9,849.1 1383.1,852.7 1385.9,856.3 1389.7,860.4 1394.1,864.6 1408.9,876.9 1415.9,884.4 1422.5,890.8 1425.9,893.5 1428.9,895.6 1430.9,896.7 1434.1,898.2 1436.3,899.0 1438.1,899.4 1439.7,899.4 1442.1,899.0 1445.9,897.9 1453.3,895.3 1468.1,889.4 1471.1,888.4 1477.9,887.2 1486.1,886.9 1491.9,887.2 1497.7,888.5 1504.9,890.7 1520.7,896.5 1525.3,897.9 1529.3,898.5 1533.5,898.3 1535.3,897.9 1537.1,897.1 1542.5,894.0 1553.5,885.2 1556.5,883.1 1560.7,881.1 1562.5,880.5 1563.9,880.4 1565.5,880.5 1567.4,881.1 1569.5,882.6 1573.1,886.6 1579.7,895.4 1580.7,896.5 1581.1,894.9 1581.7,890.3 1582.1,885.1 1583.1,855.6 1583.3,841.2 1583.9,768.3 1584.7,534.4" stroke="#00f" stroke-width="3.7" fill="none" stroke-dasharray="0,6.1" stroke-linecap="round" clip-path="url(#kd)" />
<path d="M927.5,873.9 927.7,820.2 928.1,777.3 928.7,758.9 929.5,757.2 929.9,757.0 932.7,759.9 936.3,762.7 937.5,764.3 938.1,765.7 939.1,769.9 941.8,784.4 952.5,832.8 954.9,842.7 958.7,856.4 961.3,864.3 963.3,868.6 966.9,873.2 973.5,880.1 978.7,886.0 981.7,888.7 985.3,891.2 990.5,894.0 993.9,895.6 996.9,896.6 1003.9,898.1 1012.3,899.4 1050.7,899.4 1051.5,899.2 1052.5,898.5 1054.7,896.0 1062.7,885.2 1065.9,880.1 1068.7,875.1 1071.3,869.5 1077.5,854.9 1088.5,830.1 1106.3,794.3 1115.7,776.0 1118.5,771.3 1121.7,766.8 1137.3,747.8 1141.5,741.9 1145.7,734.5 1149.1,727.9 1155.1,715.4 1158.3,707.7 1160.5,700.6 1163.3,689.6 1166.9,672.0 1169.1,659.8 1171.3,644.8 1176.7,604.6 1180.5,567.9 1182.7,549.1 1183.7,542.9 1184.7,538.4 1185.9,535.0 1186.4,534.4 1186.7,534.4 1187.3,535.4 1188.3,538.2 1188.9,541.6 1190.1,552.7 1191.1,568.9 1194.7,669.4 1197.3,751.2 1198.7,778.3 1200.7,809.3 1203.1,837.6 1205.5,857.6 1208.9,877.7 1209.9,882.2 1211.9,889.5 1212.9,892.5 1213.7,894.2 1216.1,896.9 1217.1,897.7 1218.1,898.2 1222.7,899.4 1289.1,899.4 1290.9,899.1 1294.1,898.2 1295.7,897.3 1298.3,894.5 1299.3,892.5 1302.1,883.0 1303.5,876.7 1305.9,862.9 1307.5,851.6 1309.1,837.6 1310.7,819.7 1313.3,781.7 1314.9,751.2 1317.5,669.4 1320.5,582.9 1321.3,565.1 1322.1,552.7 1323.5,540.2 1323.9,538.2 1324.9,535.4 1325.5,534.4 1325.8,534.4 1326.7,535.9 1327.7,539.1 1329.5,549.1 1331.7,567.9 1335.3,603.0 1342.9,658.6 1345.1,671.0 1348.9,689.6 1351.7,700.6 1353.9,707.7 1357.1,715.4 1363.1,727.9 1366.5,734.5 1370.7,741.9 1374.9,747.8 1390.7,767.0 1393.9,771.6 1396.9,776.7 1406.1,794.7 1423.7,830.1 1428.3,840.3 1440.5,868.6 1443.1,874.3 1447.7,882.4 1452.7,889.7 1458.7,897.5 1460.1,898.8 1461.3,899.4 1499.9,899.4 1510.5,897.7 1515.5,896.5 1517.9,895.7 1521.5,894.1 1527.3,890.9 1530.5,888.7 1533.3,886.2 1538.5,880.3 1544.3,874.3 1546.9,871.3 1549.1,868.2 1551.1,863.8 1554.3,853.7 1558.9,836.3 1570.5,784.0 1572.9,770.9 1573.9,766.4 1574.5,764.7 1575.7,763.0 1579.5,759.9 1582.3,757.0 1582.7,757.2 1583.5,758.9 1584.1,777.3 1584.5,820.2 1584.7,873.9" stroke="#0f0" stroke-width="3.5" fill="none" stroke-dasharray="8.7,7.4,0,7.4" stroke-linecap="round" clip-path="url(#kd)" />
<rect x="924.5" y="527.7" width="663.8" height="378.4" fill="none" stroke="#000" stroke-width="2.0"/>
<line x1="1588.3" y1="899.4" x2="1590.5" y2="899.4" stroke="#000" stroke-width="1.6" />
<line x1="1588.3" y1="862.9" x2="1590.5" y2="862.9" stroke="#000" stroke-width="1.6" />
<line x1="1588.3" y1="826.4" x2="1590.5" y2="826.4" stroke="#000" stroke-width="1.6" />
<line x1="1588.3" y1="789.9" x2="1590.5" y2="789.9" stroke="#000" stroke-width="1.6" />
<line x1="1588.3" y1="753.4" x2="1590.5" y2="753.4" stroke="#000" stroke-width="1.6" />
<line x1="1588.3" y1="716.9" x2="1590.5" y2="716.9" stroke="#000" stroke-width="1.6" />
<line x1="1588.3" y1="680.4" x2="1590.5" y2="680.4" stroke="#000" stroke-width="1.6" />
<line x1="1588.3" y1="643.9" x2="1590.5" y2="643.9" stroke="#000" stroke-width="1.6" />
<line x1="1588.3" y1="607.4" x2="1590.5" y2="607.4" stroke="#000" stroke-width="1.6" />
<line x1="1588.3" y1="570.9" x2="1590.5" y2="570.9" stroke="#000" stroke-width="1.6" />
<line x1="1588.3" y1="534.4" x2="1590.5" y2="534.4" stroke="#000" stroke-width="1.6" />
<line x1="927.5" y1="906.1" x2="927.5" y2="916.1" stroke="#000" stroke-width="2.0" />
<text x="927.5" y="941.8" font-size="27.7" text-anchor="middle" fill="#000" >-2</text>
<line x1="1091.8" y1="906.1" x2="1091.8" y2="916.1" stroke="#000" stroke-width="2.0" />
<text x="1091.8" y="941.8" font-size="27.7" text-anchor="middle" fill="#000" >-1</text>
<line x1="1256.1" y1="906.1" x2="1256.1" y2="916.1" stroke="#000" stroke-width="2.0" />
<text x="1256.1" y="941.8" font-size="27.7" text-anchor="middle" fill="#000" >0</text>
<line x1="1420.4" y1="906.1" x2="1420.4" y2="916.1" stroke="#000" stroke-width="2.0" />
<text x="1420.4" y="941.8" font-size="27.7" text-anchor="middle" fill="#000" >1</text>
<line x1="1584.7" y1="906.1" x2="1584.7" y2="916.1" stroke="#000" stroke-width="2.0" />
<text x="1584.7" y="941.8" font-size="27.7" text-anchor="middle" fill="#000" >2</text>
<line x1="1009.6" y1="906.1" x2="1009.6" y2="912.1" stroke="#000" stroke-width="2.0" />
<line x1="1174" y1="906.1" x2="1174" y2="912.1" stroke="#000" stroke-width="2.0" />
<line x1="1338.2" y1="906.1" x2="1338.2" y2="912.1" stroke="#000" stroke-width="2.0" />
<line x1="1502.6" y1="906.1" x2="1502.6" y2="912.1" stroke="#000" stroke-width="2.0" />
<text transform="translate(858.5,718) rotate(-90)" font-size="37" font-style="italic" text-anchor="middle">R</text>
<text x="1226.8" y="984.1" font-size="34">&#916;</text>
<text x="1247.9" y="999.1" font-size="21.1" font-style="italic">a</text>
<text x="1258.9" y="984.1" font-size="33.3">/</text>
<text x="1271.3" y="984.1" font-size="37.4" font-style="italic">&#958;</text>
<text x="939.9" y="569.9" font-size="35.8" text-anchor="start" fill="#000" >(d)</text>
<text x="1470" y="734.8" font-size="30.2"><tspan font-style="italic">N</tspan>=8</text>
<path d="M1431,565.8 L1489.5,565.8" stroke="#000" stroke-width="3.2" fill="none" stroke-linejoin="round"/>
<text x="1496.3" y="574.2" font-size="24.5" text-anchor="start" fill="#000" >&#916;&#952;=0</text>
<path d="M1431,599.9 L1489.5,599.9" stroke="#f00" stroke-width="3.5" fill="none" stroke-dasharray="5,8.3" stroke-linecap="round"/>
<text x="1496.3" y="608.3" font-size="24.5" text-anchor="start" fill="#000" >&#916;&#952;=&#960;/8</text>
<path d="M1431,634.1 L1489.5,634.1" stroke="#00f" stroke-width="3.7" fill="none" stroke-dasharray="0,6.1" stroke-linecap="round"/>
<text x="1496.3" y="642.5" font-size="24.5" text-anchor="start" fill="#000" >&#916;&#952;=&#960;/2</text>
<path d="M1431,668.2 L1489.5,668.2" stroke="#0f0" stroke-width="3.5" fill="none" stroke-dasharray="8.7,7.4,0,7.4" stroke-linecap="round"/>
<text x="1496.3" y="676.6" font-size="24.5" text-anchor="start" fill="#000" >&#916;&#952;=&#960;</text>
<path d="M91.0,1410.6 91.8,1046.2 92.5,1046.2 93.2,1228.5 94.0,1336.7 95.2,1391.2 96.2,1405.9 96.6,1408.8 97.2,1410.6 97.6,1410.6 97.8,1409.5 98.8,1398.8 102.2,1343.4 104.0,1321.4 105.4,1309.8 106.6,1304.7 107.2,1303.2 107.6,1302.8 108.2,1303.1 108.8,1304.5 109.6,1307.8 110.2,1311.4 115.2,1360.7 116.8,1372.3 118.4,1380.8 121.2,1391.6 123.0,1396.6 124.6,1400.4 125.6,1402.1 128.4,1405.5 130.2,1407.2 131.8,1408.3 136.4,1410.3 138.0,1410.6 139.4,1410.6 143.2,1409.7 144.4,1408.8 146.0,1407.0 147.4,1404.4 150.0,1397.6 156.8,1376.0 159.4,1369.3 160.6,1367.2 162.0,1365.9 163.8,1364.6 165.4,1364.3 166.4,1364.5 167.6,1365.2 170.0,1367.9 173.6,1374.9 178.9,1383.3 183.0,1391.0 185.6,1394.9 189.6,1399.7 193.0,1403.3 195.4,1405.3 198.8,1407.6 201.4,1409.0 204.8,1410.1 207.2,1410.6 210.2,1410.5 215.4,1409.6 218.2,1408.8 221.4,1407.3 222.8,1405.9 224.4,1403.5 228.0,1396.6 230.0,1392.1 235.4,1378.4 243.2,1356.2 247.4,1345.3 248.6,1343.1 251.0,1339.9 252.4,1338.6 253.8,1338.1 255.4,1338.6 257.2,1339.9 259.4,1342.2 261.6,1345.3 265.4,1351.8 275.4,1372.0 280.2,1380.7 287.2,1391.7 291.8,1398.1 294.4,1401.3 297.6,1404.4 300.4,1406.5 303.4,1408.1 307.0,1409.6 310.2,1410.3 314.6,1410.6 315.4,1410.1 316.6,1408.7 317.4,1405.6 318.4,1398.9 319.5,1381.5 320.0,1367.3 321.6,1290.4 324.6,1106.7 325.4,1075.4 326.0,1059.2 326.6,1049.9 327.2,1046.2 327.6,1047.2 328.2,1051.2 328.8,1060.5 330.7,1115.5 331.4,1129.1 332.6,1146.4 334.0,1161.8 335.6,1176.0 336.8,1185.0 338.2,1192.9 340.2,1201.1 341.8,1205.8 343.0,1207.6 345.6,1210.7 348.8,1214.9 352.2,1220.4 354.4,1224.6 356.2,1228.6 357.8,1232.7 359.2,1237.3 362.2,1249.0 365.6,1265.8 369.0,1285.1 378.8,1344.4 382.4,1363.8 385.2,1376.8 388.0,1387.2 389.6,1392.1 390.8,1395.1 392.6,1398.7 394.2,1401.4 397.0,1404.8 399.0,1406.8 402.8,1409.5 404.0,1410.0 405.0,1410.2 412.2,1410.6 430.0,1410.6 435.4,1410.4 438.8,1410.1 440.6,1409.2 443.8,1407.0 445.8,1405.0 448.4,1401.9 450.0,1399.4 452.0,1395.5 454.2,1389.6 456.0,1383.7 457.4,1378.3 461.2,1360.5 465.8,1334.9 476.4,1271.0 479.6,1254.4 482.0,1243.8 485.2,1232.6 487.0,1228.0 489.0,1223.7 491.4,1219.2 493.4,1216.0 497.2,1210.9 500.2,1207.3 501.4,1205.3 502.4,1202.3 503.8,1197.2 505.4,1189.5 506.6,1182.0 508.2,1168.9 509.6,1155.3 510.6,1143.1 512.3,1115.5 514.2,1059.7 514.8,1050.8 515.4,1047.0 515.8,1046.2 516.2,1048.3 516.6,1052.3 517.2,1064.7 518.4,1108.4 521.4,1290.4 523.0,1368.6 523.5,1381.5 524.6,1399.3 525.6,1405.9 526.4,1408.7 527.6,1410.2 528.4,1410.6 532.8,1410.3 536.2,1409.5 539.6,1408.1 542.6,1406.5 545.4,1404.4 548.6,1401.2 551.2,1398.0 555.8,1391.7 562.6,1381.0 567.6,1371.9 577.6,1351.8 581.4,1345.3 583.6,1342.2 585.8,1339.9 587.6,1338.5 589.2,1338.1 590.6,1338.6 592.0,1339.9 594.4,1343.1 595.6,1345.4 599.8,1356.3 607.6,1378.5 613.0,1392.2 615.0,1396.7 618.6,1403.6 620.2,1406.0 621.6,1407.3 624.8,1408.8 627.6,1409.7 632.8,1410.5 635.8,1410.6 638.2,1410.1 641.6,1409.0 644.2,1407.6 647.6,1405.3 650.0,1403.2 653.4,1399.7 657.4,1394.8 659.8,1391.3 664.1,1383.3 669.4,1374.8 672.8,1368.1 674.2,1366.3 675.4,1365.2 676.6,1364.4 677.6,1364.3 679.2,1364.7 681.0,1365.9 682.4,1367.3 683.6,1369.4 686.2,1376.1 693.0,1397.7 695.6,1404.5 697.0,1407.1 698.6,1408.8 699.8,1409.7 703.6,1410.6 705.0,1410.6 706.6,1410.2 711.2,1408.3 712.8,1407.2 714.6,1405.4 717.4,1402.0 718.4,1400.3 720.0,1396.5 721.8,1391.5 724.6,1380.6 726.2,1372.1 727.8,1360.4 732.8,1311.1 734.0,1305.1 734.6,1303.4 735.2,1302.7 735.6,1302.9 736.2,1304.2 737.4,1308.9 738.8,1319.8 740.8,1343.9 744.2,1399.3 745.2,1409.8 745.4,1410.6 745.8,1410.6 746.6,1407.4 747.6,1394.8 748.2,1375.9 748.9,1345.0 749.7,1246.6 750.5,1046.2 751.2,1046.2 752.0,1410.6" stroke="#000" stroke-width="4.2" fill="none" stroke-linejoin="round" clip-path="url(#ke)" />
<rect x="90" y="1039" width="663.9" height="379.1" fill="none" stroke="#000" stroke-width="2.0"/>
<line x1="753.9" y1="1410.6" x2="756.1" y2="1410.6" stroke="#000" stroke-width="1.6" />
<line x1="753.9" y1="1374.2" x2="756.1" y2="1374.2" stroke="#000" stroke-width="1.6" />
<line x1="753.9" y1="1337.7" x2="756.1" y2="1337.7" stroke="#000" stroke-width="1.6" />
<line x1="753.9" y1="1301.3" x2="756.1" y2="1301.3" stroke="#000" stroke-width="1.6" />
<line x1="753.9" y1="1264.9" x2="756.1" y2="1264.9" stroke="#000" stroke-width="1.6" />
<line x1="753.9" y1="1228.4" x2="756.1" y2="1228.4" stroke="#000" stroke-width="1.6" />
<line x1="753.9" y1="1192" x2="756.1" y2="1192" stroke="#000" stroke-width="1.6" />
<line x1="753.9" y1="1155.6" x2="756.1" y2="1155.6" stroke="#000" stroke-width="1.6" />
<line x1="753.9" y1="1119.1" x2="756.1" y2="1119.1" stroke="#000" stroke-width="1.6" />
<line x1="753.9" y1="1082.7" x2="756.1" y2="1082.7" stroke="#000" stroke-width="1.6" />
<line x1="753.9" y1="1046.2" x2="756.1" y2="1046.2" stroke="#000" stroke-width="1.6" />
<line x1="92.5" y1="1418.1" x2="92.5" y2="1427.6" stroke="#000" stroke-width="2.0" />
<text x="92.5" y="1454.6" font-size="28.5" text-anchor="middle" fill="#000" >-2</text>
<line x1="257" y1="1418.1" x2="257" y2="1427.6" stroke="#000" stroke-width="2.0" />
<text x="257" y="1454.6" font-size="28.5" text-anchor="middle" fill="#000" >-1</text>
<line x1="421.5" y1="1418.1" x2="421.5" y2="1427.6" stroke="#000" stroke-width="2.0" />
<text x="421.5" y="1454.6" font-size="28.5" text-anchor="middle" fill="#000" >0</text>
<line x1="586" y1="1418.1" x2="586" y2="1427.6" stroke="#000" stroke-width="2.0" />
<text x="586" y="1454.6" font-size="28.5" text-anchor="middle" fill="#000" >1</text>
<line x1="750.5" y1="1418.1" x2="750.5" y2="1427.6" stroke="#000" stroke-width="2.0" />
<text x="750.5" y="1454.6" font-size="28.5" text-anchor="middle" fill="#000" >2</text>
<line x1="174.8" y1="1418.1" x2="174.8" y2="1423.6" stroke="#000" stroke-width="2.0" />
<line x1="339.2" y1="1418.1" x2="339.2" y2="1423.6" stroke="#000" stroke-width="2.0" />
<line x1="503.8" y1="1418.1" x2="503.8" y2="1423.6" stroke="#000" stroke-width="2.0" />
<line x1="668.2" y1="1418.1" x2="668.2" y2="1423.6" stroke="#000" stroke-width="2.0" />
<text transform="translate(24.2,1229.8) rotate(-90)" font-size="37" font-style="italic" text-anchor="middle">R</text>
<text x="392.3" y="1496" font-size="34">&#916;</text>
<text x="413.4" y="1511" font-size="21.1" font-style="italic">a</text>
<text x="424.4" y="1496" font-size="33.3">/</text>
<text x="436.8" y="1496" font-size="37.4" font-style="italic">&#958;</text>
<text x="103.6" y="1082.9" font-size="35.8" text-anchor="start" fill="#000" >(e)</text>
<text x="631.7" y="1115.7" font-size="31.5">&#916;&#952;=0</text>
<text x="622" y="1203.7" font-size="30.1"><tspan font-style="italic">N</tspan>=18</text>
<path d="M926.0,1410.6 926.8,1046.2 927.5,1046.2 928.4,1295.3 929.0,1393.8 929.3,1410.6 930.8,1344.8 931.2,1336.6 931.6,1333.7 932.0,1336.9 932.4,1345.8 933.8,1401.8 934.4,1408.6 934.9,1410.6 939.0,1410.6 943.6,1390.4 945.2,1386.5 945.8,1385.7 946.4,1385.5 947.0,1385.9 947.6,1386.7 949.0,1389.9 951.4,1398.6 954.0,1405.9 956.2,1409.4 957.0,1410.2 957.8,1410.6 958.6,1410.4 959.4,1409.9 961.4,1407.7 962.8,1405.7 965.4,1400.6 967.0,1398.6 969.2,1396.6 970.0,1396.2 970.8,1396.0 972.4,1396.5 974.4,1398.2 976.0,1400.0 980.0,1406.2 983.2,1409.4 984.4,1410.2 985.4,1410.6 986.6,1410.5 988.0,1410.1 991.2,1408.0 993.0,1406.3 996.6,1402.1 998.1,1400.8 1001.8,1398.8 1003.2,1398.4 1004.6,1398.2 1006.0,1398.3 1007.6,1398.8 1011.6,1401.0 1013.2,1402.3 1017.2,1406.4 1021.6,1409.8 1023.4,1410.5 1025.2,1410.5 1027.6,1409.4 1031.4,1406.6 1036.4,1401.3 1038.2,1399.8 1042.0,1397.8 1043.6,1397.3 1045.0,1397.1 1046.6,1397.3 1048.2,1397.7 1052.4,1399.7 1054.6,1401.2 1059.8,1405.7 1064.4,1409.0 1067.0,1410.3 1068.2,1410.6 1069.2,1410.6 1071.2,1409.7 1073.6,1407.6 1078.2,1402.7 1083.8,1395.6 1086.8,1392.8 1089.2,1390.8 1091.0,1389.7 1092.6,1389.0 1094.2,1388.7 1095.8,1389.0 1097.4,1389.8 1099.2,1391.0 1101.7,1393.1 1103.6,1395.2 1109.0,1402.3 1114.0,1408.1 1116.6,1410.2 1117.4,1410.6 1118.4,1410.5 1119.2,1410.0 1120.2,1408.7 1123.4,1403.3 1124.8,1400.2 1126.6,1395.3 1130.2,1384.0 1133.6,1371.2 1135.8,1361.9 1141.6,1335.0 1143.0,1329.5 1145.2,1322.9 1147.0,1318.8 1149.2,1315.6 1150.2,1314.6 1151.0,1314.4 1151.8,1314.6 1152.6,1315.7 1155.4,1322.3 1157.0,1327.5 1158.6,1334.5 1159.8,1341.4 1162.0,1357.1 1169.4,1406.3 1170.0,1409.5 1170.4,1410.5 1170.7,1410.6 1171.0,1409.7 1171.6,1406.1 1173.2,1390.8 1176.3,1365.1 1182.0,1326.9 1183.6,1318.1 1185.0,1311.9 1186.8,1306.2 1187.4,1305.1 1187.8,1304.9 1188.2,1304.9 1188.8,1305.5 1189.8,1307.3 1190.8,1309.8 1191.8,1313.5 1193.6,1321.7 1196.4,1337.1 1201.6,1363.4 1203.4,1371.2 1205.6,1379.4 1209.2,1390.5 1212.4,1398.4 1214.6,1402.7 1217.6,1406.6 1219.2,1407.9 1223.0,1409.8 1224.6,1410.2 1228.4,1410.6 1247.4,1409.5 1256.0,1409.9 1266.2,1409.5 1282.4,1410.6 1284.8,1410.5 1288.4,1410.0 1290.6,1409.1 1293.4,1407.6 1295.0,1406.1 1297.2,1403.2 1298.4,1401.3 1300.0,1397.8 1301.8,1393.6 1303.6,1388.7 1307.0,1377.8 1310.0,1366.0 1315.4,1338.9 1318.6,1321.5 1320.4,1313.3 1321.4,1309.7 1322.4,1307.2 1323.4,1305.4 1324.2,1304.8 1324.8,1305.1 1325.4,1306.3 1327.2,1312.1 1328.6,1318.3 1330.2,1327.1 1335.8,1364.1 1338.8,1389.4 1340.4,1404.8 1341.0,1409.0 1341.5,1410.6 1341.8,1410.5 1342.2,1409.3 1342.8,1406.0 1350.2,1356.8 1352.4,1341.1 1353.4,1335.3 1355.2,1327.4 1356.8,1322.2 1359.4,1316.0 1360.2,1314.8 1361.0,1314.4 1361.8,1314.6 1362.6,1315.2 1364.6,1317.8 1366.2,1321.0 1367.8,1325.2 1369.4,1330.3 1370.4,1334.3 1377.6,1367.4 1380.2,1377.7 1382.6,1386.2 1386.0,1396.6 1388.2,1402.2 1391.8,1408.5 1392.8,1409.8 1393.8,1410.6 1394.8,1410.6 1395.6,1410.2 1398.2,1408.0 1403.0,1402.5 1408.0,1395.9 1410.4,1393.2 1413.0,1391.0 1414.8,1389.7 1416.4,1389.0 1418.0,1388.7 1419.6,1389.0 1421.2,1389.7 1423.0,1390.9 1425.4,1392.8 1428.4,1395.7 1434.0,1402.8 1438.6,1407.6 1441.0,1409.7 1443.0,1410.6 1444.0,1410.6 1445.2,1410.3 1447.8,1408.9 1452.4,1405.6 1457.4,1401.3 1459.8,1399.7 1464.0,1397.7 1465.6,1397.3 1467.2,1397.1 1468.6,1397.3 1470.2,1397.8 1474.0,1399.8 1475.8,1401.4 1480.8,1406.7 1484.6,1409.4 1487.0,1410.5 1488.3,1410.6 1489.0,1410.5 1491.4,1409.2 1495.2,1406.2 1499.6,1401.7 1501.6,1400.3 1504.8,1398.7 1506.2,1398.3 1507.6,1398.2 1509.0,1398.4 1510.4,1398.8 1514.1,1400.8 1515.6,1402.1 1519.2,1406.3 1521.0,1408.0 1524.2,1410.1 1525.6,1410.5 1526.8,1410.6 1527.8,1410.2 1529.0,1409.4 1532.2,1406.1 1536.2,1400.0 1537.8,1398.2 1539.8,1396.5 1541.4,1396.0 1542.2,1396.2 1543.0,1396.6 1545.2,1398.7 1546.8,1400.7 1549.4,1405.7 1550.8,1407.8 1552.8,1410.0 1553.6,1410.5 1554.4,1410.6 1555.2,1410.2 1556.0,1409.3 1558.2,1405.8 1560.6,1399.1 1563.2,1389.8 1564.6,1386.7 1565.2,1385.8 1565.8,1385.5 1566.4,1385.7 1567.0,1386.6 1568.6,1390.5 1573.2,1410.6 1577.3,1410.6 1577.8,1408.3 1578.4,1400.8 1579.8,1344.4 1580.2,1336.3 1580.6,1333.7 1581.0,1337.2 1581.4,1346.2 1582.9,1410.6 1583.2,1388.4 1583.8,1286.0 1584.7,1046.2 1585.4,1046.2 1586.2,1410.6" stroke="#000" stroke-width="4.2" fill="none" stroke-linejoin="round" clip-path="url(#kf)" />
<rect x="924.5" y="1039" width="664" height="379.1" fill="none" stroke="#000" stroke-width="2.0"/>
<line x1="1588.5" y1="1410.6" x2="1590.7" y2="1410.6" stroke="#000" stroke-width="1.6" />
<line x1="1588.5" y1="1374.2" x2="1590.7" y2="1374.2" stroke="#000" stroke-width="1.6" />
<line x1="1588.5" y1="1337.7" x2="1590.7" y2="1337.7" stroke="#000" stroke-width="1.6" />
<line x1="1588.5" y1="1301.3" x2="1590.7" y2="1301.3" stroke="#000" stroke-width="1.6" />
<line x1="1588.5" y1="1264.9" x2="1590.7" y2="1264.9" stroke="#000" stroke-width="1.6" />
<line x1="1588.5" y1="1228.4" x2="1590.7" y2="1228.4" stroke="#000" stroke-width="1.6" />
<line x1="1588.5" y1="1192" x2="1590.7" y2="1192" stroke="#000" stroke-width="1.6" />
<line x1="1588.5" y1="1155.6" x2="1590.7" y2="1155.6" stroke="#000" stroke-width="1.6" />
<line x1="1588.5" y1="1119.1" x2="1590.7" y2="1119.1" stroke="#000" stroke-width="1.6" />
<line x1="1588.5" y1="1082.7" x2="1590.7" y2="1082.7" stroke="#000" stroke-width="1.6" />
<line x1="1588.5" y1="1046.2" x2="1590.7" y2="1046.2" stroke="#000" stroke-width="1.6" />
<line x1="927.5" y1="1418.1" x2="927.5" y2="1427.6" stroke="#000" stroke-width="2.0" />
<text x="927.5" y="1454.6" font-size="28.5" text-anchor="middle" fill="#000" >-2</text>
<line x1="1091.8" y1="1418.1" x2="1091.8" y2="1427.6" stroke="#000" stroke-width="2.0" />
<text x="1091.8" y="1454.6" font-size="28.5" text-anchor="middle" fill="#000" >-1</text>
<line x1="1256.1" y1="1418.1" x2="1256.1" y2="1427.6" stroke="#000" stroke-width="2.0" />
<text x="1256.1" y="1454.6" font-size="28.5" text-anchor="middle" fill="#000" >0</text>
<line x1="1420.4" y1="1418.1" x2="1420.4" y2="1427.6" stroke="#000" stroke-width="2.0" />
<text x="1420.4" y="1454.6" font-size="28.5" text-anchor="middle" fill="#000" >1</text>
<line x1="1584.7" y1="1418.1" x2="1584.7" y2="1427.6" stroke="#000" stroke-width="2.0" />
<text x="1584.7" y="1454.6" font-size="28.5" text-anchor="middle" fill="#000" >2</text>
<line x1="1009.6" y1="1418.1" x2="1009.6" y2="1423.6" stroke="#000" stroke-width="2.0" />
<line x1="1174" y1="1418.1" x2="1174" y2="1423.6" stroke="#000" stroke-width="2.0" />
<line x1="1338.2" y1="1418.1" x2="1338.2" y2="1423.6" stroke="#000" stroke-width="2.0" />
<line x1="1502.6" y1="1418.1" x2="1502.6" y2="1423.6" stroke="#000" stroke-width="2.0" />
<text transform="translate(858.5,1229.8) rotate(-90)" font-size="37" font-style="italic" text-anchor="middle">R</text>
<text x="1227.1" y="1496" font-size="34">&#916;</text>
<text x="1248.2" y="1511" font-size="21.1" font-style="italic">a</text>
<text x="1259.2" y="1496" font-size="33.3">/</text>
<text x="1271.6" y="1496" font-size="37.4" font-style="italic">&#958;</text>
<text x="942.4" y="1080.9" font-size="35.8" text-anchor="start" fill="#000" >(f)</text>
<text x="1455.2" y="1113.8" font-size="30.3">&#916;&#952;=&#960;/2</text>
<text x="1452.3" y="1205.6" font-size="30.1"><tspan font-style="italic">N</tspan>=18</text>
<rect x="138.4" y="569.8" width="161.1" height="144.2" fill="#fff" stroke="#808080" stroke-width="1.3"/>
<path d="M134.6,595.6 136.7,592.2 138.3,590.4 143.7,586.8 148.7,584.0 152.3,582.5 158.9,580.3 174.9,576.1 180.9,574.9 188.9,573.6 197.5,572.8 203.3,572.4 206.9,572.4 210.7,572.7 224.3,574.6 232.9,576.6 235.5,577.5 238.3,578.7 248.7,584.0 259.5,590.8 269.9,598.0 280.1,605.9 293.5,617.1 300.1,622.9 305.4,627.7" stroke="#0f0" stroke-width="3.7" fill="none" stroke-dasharray="0,7.8" stroke-linecap="round" clip-path="url(#icl)"/>
<path d="M134.6,683.6 137.1,680.0 139.1,677.7 142.9,674.2 151.3,667.2 156.1,662.7 162.7,656.1 167.9,650.2 173.7,642.4 180.7,632.0 200.3,598.6 204.9,591.5 210.7,584.2 214.5,580.1 216.3,578.6 217.9,577.6 219.7,576.9 221.3,576.6 222.9,576.7 225.1,577.4 227.3,578.5 229.5,580.0 232.5,582.4 234.5,584.3 237.1,587.1 239.7,590.3 244.7,597.1 248.3,602.5 268.3,637.5 271.7,643.0 275.9,649.2 283.3,659.2 294.7,673.5 297.7,676.9 300.7,679.9 303.1,682.0 305.4,683.6" stroke="#00f" stroke-width="4.2" fill="none" clip-path="url(#icl)"/>
<path d="M134.6,710.9 218.5,710.8 223.0,710.6 223.3,710.4 224.3,708.4 225.2,706.0 225.3,705.1 225.7,698.3 226.3,682.2 226.8,652.9 227.3,594.2 227.9,652.9 228.5,682.2 229.5,705.1 229.7,706.0 230.3,708.0 231.3,710.2 231.9,710.6 233.3,710.9 305.4,710.9" stroke="#000" stroke-width="3.4" fill="none" stroke-linejoin="round" clip-path="url(#icl)"/>
<path d="M134.6,710.9 188.9,710.9 198.9,710.7 204.1,710.4 211.2,709.4 211.9,709.1 212.7,708.6 214.1,707.3 216.5,704.5 217.5,702.9 219.8,697.6 220.7,693.7 221.9,686.8 224.3,670.1 226.3,642.4 226.7,638.9 226.9,638.5 227.1,638.9 227.5,641.2 229.7,657.6 230.9,675.4 231.3,679.0 232.1,684.4 233.3,690.6 234.3,694.7 235.7,698.9 236.7,701.4 237.5,702.7 240.7,706.2 242.1,707.3 243.3,708.0 247.9,709.5 250.7,710.0 264.5,710.8 305.4,710.9" stroke="#f00" stroke-width="3.5" fill="none" stroke-dasharray="0,8.9" stroke-linecap="round" clip-path="url(#icl)"/>
<line x1="135.4" y1="711.6" x2="138.4" y2="711.6" stroke="#808080" stroke-width="1.2" />
<line x1="299.5" y1="711.6" x2="297" y2="711.6" stroke="#808080" stroke-width="1.0" />
<text x="131.5" y="718.8" font-size="21.5" text-anchor="end" fill="#000" >0.0</text>
<line x1="135.4" y1="641.7" x2="138.4" y2="641.7" stroke="#808080" stroke-width="1.2" />
<line x1="299.5" y1="641.7" x2="297" y2="641.7" stroke="#808080" stroke-width="1.0" />
<text x="131.5" y="648.9" font-size="21.5" text-anchor="end" fill="#000" >0.5</text>
<line x1="135.4" y1="571.8" x2="138.4" y2="571.8" stroke="#808080" stroke-width="1.2" />
<line x1="299.5" y1="571.8" x2="297" y2="571.8" stroke="#808080" stroke-width="1.0" />
<text x="131.5" y="579" font-size="21.5" text-anchor="end" fill="#000" >1.0</text>
<line x1="151.3" y1="714" x2="151.3" y2="716.5" stroke="#808080" stroke-width="1.2" />
<text x="152.1" y="735.2" font-size="21.5" text-anchor="middle" fill="#000" >-0.6</text>
<line x1="218.3" y1="714" x2="218.3" y2="716.5" stroke="#808080" stroke-width="1.2" />
<text x="219.1" y="735.2" font-size="21.5" text-anchor="middle" fill="#000" >-0.5</text>
<line x1="285.3" y1="714" x2="285.3" y2="716.5" stroke="#808080" stroke-width="1.2" />
<text x="286.1" y="735.2" font-size="21.5" text-anchor="middle" fill="#000" >-0.4</text>
<line x1="184.8" y1="714" x2="184.8" y2="716" stroke="#808080" stroke-width="1.0" />
<line x1="251.8" y1="714" x2="251.8" y2="716" stroke="#808080" stroke-width="1.0" />
<rect x="594.2" y="536.1" width="153" height="208.5" fill="#fff" stroke="#808080" stroke-width="1.3"/>
<path d="M597.9,762.5 599.1,759.8 600.5,755.6 603.9,742.5 605.5,734.6 609.7,711.2 611.9,701.3 614.1,692.9 620.9,669.2 622.9,661.0 628.7,635.5 630.3,629.5 632.9,621.1 637.1,609.2 646.5,584.7 650.3,575.6 654.3,567.2 657.5,561.0 660.3,556.6 665.3,550.7 667.1,549.0 668.7,547.9 670.5,547.2 674.7,546.0 677.3,545.5 679.7,545.2 681.9,545.3 684.3,545.6 686.7,546.2 688.3,546.9 690.1,548.1 692.3,549.9 697.5,554.8 699.7,557.1 702.3,560.1 705.1,563.8 708.1,567.9 710.3,571.4 713.5,576.9 718.3,585.6 723.3,595.2 727.9,605.2 731.9,615.4 736.3,628.3 739.7,639.6 746.5,665.1 750.3,681.0" stroke="#000" stroke-width="4.0" fill="none" clip-path="url(#icr)"/>
<path d="M602.7,762.5 606.9,742.1 616.3,692.3 619.3,678.0 622.7,663.6 628.9,639.1 631.9,628.0 635.9,614.3 639.5,603.2 644.5,589.2 651.9,570.7 655.1,563.4 657.5,559.0 660.3,554.9 662.3,552.3 663.7,550.8 665.1,549.6 666.3,549.0 667.9,548.4 671.9,547.5 677.5,547.5 679.9,548.2 682.5,549.4 686.3,551.6 688.1,552.9 690.3,554.9 692.7,557.5 696.1,561.5 698.5,564.7 701.3,569.0 704.4,574.2 708.3,581.9 716.1,598.5 722.5,612.9 725.3,619.7 727.5,626.2 732.7,647.4 734.3,652.7 738.9,666.6 740.7,673.3 742.7,681.6 744.1,688.1 745.5,696.2 748.2,717.2" stroke="#f00" stroke-width="3.6" fill="none" stroke-dasharray="0,8.6" stroke-linecap="round" clip-path="url(#icr)"/>
<path d="M632.5,771.6 633.9,755.6 635.1,744.1 639.7,711.1 647.7,644.3 652.1,609.5 654.7,593.8 656.5,585.1 657.3,582.3 658.7,579.1 659.7,577.4 660.5,576.9 661.3,577.3 662.1,578.3 664.3,582.9 666.1,588.4 668.1,596.2 670.3,605.8 671.9,614.0 677.5,647.8 681.7,677.9 684.5,702.5 685.7,715.9 690.0,771.6" stroke="#00f" stroke-width="4.2" fill="none" clip-path="url(#icr)"/>
<path d="M655,547 L655,762.5" stroke="#0f0" stroke-width="3.6" fill="none" stroke-dasharray="0,3.2" stroke-linecap="round" clip-path="url(#icr)"/>
<line x1="591.4" y1="726.3" x2="594.2" y2="726.3" stroke="#808080" stroke-width="1.2" />
<line x1="747.2" y1="726.3" x2="745" y2="726.3" stroke="#808080" stroke-width="1.0" />
<text x="589" y="732.5" font-size="21" text-anchor="end" fill="#000" >0.8</text>
<line x1="591.4" y1="545.2" x2="594.2" y2="545.2" stroke="#808080" stroke-width="1.2" />
<line x1="747.2" y1="545.2" x2="745" y2="545.2" stroke="#808080" stroke-width="1.0" />
<text x="589" y="551.4" font-size="21" text-anchor="end" fill="#000" >1.0</text>
<line x1="594.2" y1="635.8" x2="596" y2="635.8" stroke="#808080" stroke-width="1.0" />
<line x1="594.4" y1="744.6" x2="594.4" y2="747" stroke="#808080" stroke-width="1.2" />
<text x="593.8" y="765" font-size="21" text-anchor="middle" fill="#000" >0.4</text>
<line x1="733" y1="744.6" x2="733" y2="747" stroke="#808080" stroke-width="1.2" />
<text x="732.4" y="765" font-size="21" text-anchor="middle" fill="#000" >0.6</text>
<line x1="663.7" y1="744.6" x2="663.7" y2="746.5" stroke="#808080" stroke-width="1.0" />
<rect x="974.8" y="600.7" width="144.5" height="130.2" fill="#fff" stroke="#808080" stroke-width="1.3"/>
<path d="M991.4,576.0 996.4,626.0 999.6,652.7 1001.2,662.8 1003.0,672.5 1006.0,686.1 1008.0,694.2 1010.6,702.2 1013.6,709.7 1015.6,713.6 1018.2,717.9 1020.0,720.5 1021.8,722.4 1024.8,724.4 1026.8,725.5 1029.0,726.2 1033.0,726.6 1038.5,726.8 1048.8,726.8 1053.4,726.1 1057.8,725.0 1058.8,724.6 1060.2,723.7 1061.8,722.3 1066.6,717.2 1069.4,712.8 1072.9,705.9 1075.6,699.3 1079.0,688.4 1082.8,675.1 1086.4,660.5 1088.6,650.8 1090.6,641.0 1097.8,604.1 1101.4,583.6" stroke="#000" stroke-width="3.4" fill="none" clip-path="url(#id)"/>
<path d="M986.8,588.7 989.4,623.8 992.2,653.6 994.8,672.6 999.8,702.7 1000.8,707.4 1002.4,713.5 1003.6,717.4 1004.8,720.3 1006.8,722.9 1009.0,725.0 1010.2,725.7 1013.4,726.8 1015.6,726.8 1017.0,726.1 1026.0,718.7 1029.8,716.3 1033.2,714.9 1036.8,714.0 1039.0,713.6 1042.0,713.7 1046.8,714.5 1049.6,715.1 1052.2,716.0 1054.6,717.3 1061.4,722.6 1063.4,724.0 1066.8,725.4 1070.6,726.4 1074.0,726.6 1076.2,726.4 1077.4,726.1 1078.4,725.5 1079.4,724.6 1082.2,721.3 1083.6,718.9 1088.6,709.3 1091.4,703.1 1093.2,697.2 1096.0,685.7 1099.9,666.4 1104.4,641.5 1107.8,616.4 1110.6,591.3" stroke="#f00" stroke-width="3.7" fill="none" stroke-dasharray="0,12.4" stroke-linecap="round" clip-path="url(#id)"/>
<line x1="972" y1="727.6" x2="974.8" y2="727.6" stroke="#808080" stroke-width="1.0" />
<text x="972.2" y="731.9" font-size="12.8" text-anchor="end" fill="#000" font-weight="bold">0.000</text>
<line x1="972" y1="600.7" x2="974.8" y2="600.7" stroke="#808080" stroke-width="1.0" />
<text x="972.2" y="605" font-size="12.8" text-anchor="end" fill="#000" font-weight="bold">0.003</text>
<line x1="972.5" y1="664.1" x2="974.8" y2="664.1" stroke="#808080" stroke-width="1.0" />
<line x1="1119.3" y1="664.1" x2="1117" y2="664.1" stroke="#808080" stroke-width="1.0" />
<line x1="998.7" y1="730.9" x2="998.7" y2="733" stroke="#808080" stroke-width="1.0" />
<text x="998.7" y="745.8" font-size="13.2" text-anchor="middle" fill="#000" font-weight="bold">-1.90</text>
<line x1="1038.8" y1="730.9" x2="1038.8" y2="733" stroke="#808080" stroke-width="1.0" />
<text x="1038.8" y="745.8" font-size="13.2" text-anchor="middle" fill="#000" font-weight="bold">-1.85</text>
<line x1="1079" y1="730.9" x2="1079" y2="733" stroke="#808080" stroke-width="1.0" />
<text x="1079" y="745.8" font-size="13.2" text-anchor="middle" fill="#000" font-weight="bold">-1.80</text>
<line x1="1119.1" y1="730.9" x2="1119.1" y2="733" stroke="#808080" stroke-width="1.0" />
<text x="1119.1" y="745.8" font-size="13.2" text-anchor="middle" fill="#000" font-weight="bold">-1.75</text>
<line x1="978.6" y1="730.9" x2="978.6" y2="732.5" stroke="#808080" stroke-width="0.9" />
<line x1="1018.7" y1="730.9" x2="1018.7" y2="732.5" stroke="#808080" stroke-width="0.9" />
<line x1="1058.9" y1="730.9" x2="1058.9" y2="732.5" stroke="#808080" stroke-width="0.9" />
<line x1="1099" y1="730.9" x2="1099" y2="732.5" stroke="#808080" stroke-width="0.9" />
<path d="M1005.4,627.7 L1039.8,627.7" stroke="#000" stroke-width="3.4"/>
<text x="1042.3" y="632.5" font-size="13.5" text-anchor="start" fill="#000" font-weight="bold">&#916;&#952;=0</text>
<path d="M1006.6,646 L1032,646" stroke="#f00" stroke-width="3.7" stroke-dasharray="0,12.3" stroke-linecap="round"/>
<text x="1042.3" y="651.5" font-size="13.5" text-anchor="start" fill="#000" font-weight="bold">&#916;&#952;=&#960;/8</text>
<path d="M330,545 L241.5,563.8" stroke="#000" stroke-width="1.6" marker-end="url(#ah)"/>
<path d="M531,560 L588.9,587.5" stroke="#000" stroke-width="1.6" marker-end="url(#ah)"/>
<path d="M949.3,899.6 L1004.9,751.8" stroke="#000" stroke-width="1.6" marker-end="url(#ah)"/>
</svg>
<script>
(function(){
var ST=[[0,102,0,102],[0.045,128,0,176],[0.07,128,0,224],[0.093,106,0,255],[0.114,72,0,255],[0.143,0,0,255],[0.183,0,112,255],[0.267,0,255,255],[0.32,0,255,0],[0.49,255,255,0],[0.645,255,64,0],[0.66,255,0,0],[0.8,255,0,0],[1,90,0,0]];
function cm(v){if(v<=0)return ST[0];if(v>=1)return ST[ST.length-1];
for(var i=1;i<ST.length;i++){if(v<=ST[i][0]){var a=ST[i-1],b=ST[i],f=(v-a[0])/(b[0]-a[0]);return [0,a[1]+f*(b[1]-a[1]),a[2]+f*(b[2]-a[2]),a[3]+f*(b[3]-a[3])];}}return ST[ST.length-1];}
function tab(T,x){if(x<=T[0])return T[1];var n=T.length;if(x>=T[n-2])return T[n-1];
for(var i=2;i<n;i+=2){if(x<=T[i]){var f=(x-T[i-2])/(T[i]-T[i-2]);return T[i-1]+f*(T[i+1]-T[i-1]);}}return T[n-1];}
var PI=Math.PI,cos=Math.cos,exp=Math.exp,pow=Math.pow,abs=Math.abs;
function ud(t){var r=((t%2)+2)%2;return r>1?2-r:r;} /* distance to nearest even */
/* ---------- N=7 ---------- */
function lens7(x,u){var c=0.1253,g=(cos(PI*u/2)-c)/(1-c);if(g<=0)return 0;g=pow(g,1.25);
 var xr=0.493+0.032*g,d=x-xr,s=(d<0?0.2:0.265)*g;if(s<1e-5)return 0;var A=1-0.05*(u/0.5)*(u/0.5);
 var q=d/(1.6*s),m=0.09*g;return A*((1-m)*exp(-(d*d)/(s*s))+m/(1+q*q));}
function blob7(x,u){var d=x+1.275,s=d<0?0.31:0.46,c=cos(PI*u/2),h=u/0.5,e=(d-0.05)/0.5;return Math.max(0.137*c*c*c*exp(-(d*d)/(s*s)),0.05*exp(-h*h*h*h-e*e*e*e));}
function edge7(x,u){var A=0.3*exp(-(u/0.28)*(u/0.28)),xc=1.942,d=x-xc,s=d<0?0.17:0.045;
 var e=2-x;return A*exp(-(d*d)/(s*s))+0.5*exp(-e/0.01);}
function modA(x,t){var ue=ud(t),uo=1-ue;
 return lens7(x,ue)+lens7(-x,uo)+blob7(x,ue)+blob7(-x,uo)+edge7(x,ue)+edge7(-x,uo);}
/* ---------- N=8 ---------- */
var P0=[-1.3,0,-1.25,0,-1.208,0.02,-1.146,0.062,-1.084,0.125,-1.022,0.188,-0.96,0.244,-0.898,0.3,-0.836,0.35,-0.77,0.39,-0.707,0.425,-0.674,0.453,-0.597,0.523,-0.55,0.607,-0.512,0.711,-0.481,0.816,-0.457,0.921,-0.434,0.991,-0.419,1.0,-0.403,0.956,-0.388,0.816,-0.372,0.607,-0.357,0.397,-0.333,0.222,-0.302,0.097,-0.256,0.013,-0.2,0,0,0];
var PL=[-1.3,0,-1.25,0,-1.208,0.02,-1.146,0.062,-1.084,0.125,-1.022,0.188,-0.96,0.244,-0.898,0.3,-0.836,0.35,-0.77,0.39,-0.707,0.425,-0.674,0.45,-0.6,0.47,-0.55,0.49,-0.5,0.5,-0.45,0.5,-0.4,0.48,-0.372,0.45,-0.357,0.397,-0.333,0.222,-0.302,0.097,-0.256,0.013,-0.2,0,0,0];
var PU=[0,0.47,0.5,0.44,0.7,0.37,0.8,0.3,0.9,0.23,1.0,0.15,1.1,0.07,1.25,0];
function D8(x,u){var xc=-0.574,dx=x-xc,au=abs(u)/0.6,a=dx<0?0.456:0.246,ax=abs(dx)/a;
 var m=dx<-0.05?1.4:(dx>0.05?1.8:1.6+dx*2),p1=pow(ax,m),p2=pow(au,m),r=pow(p1+p2,1/m),wx=(p1+p2)>0?p1/(p1+p2):1;
 var Px=dx<0?tab(PL,xc-0.45*r*(0.456/0.45)):tab(PL,-0.6+0.28*r);
 var pl=wx*Px+(1-wx)*tab(PU,r),d=x+0.42,s=d<0?0.1:0.03;
 return pl+0.5*exp(-(d*d)/(s*s))*exp(-(u/0.31)*(u/0.31));}
var SH=[-0.6,0,-0.563,0.26,-0.52,0.25,-0.496,0.23,-0.457,0.2,-0.42,0.16,-0.38,0.13,-0.302,0.1,-0.225,0.068,-0.147,0.04,-0.07,0.013,0,0];
function S8(x,u){var d=x+0.563,A=exp(-(u/0.13)*(u/0.13)),s=(d<0?0.025:0.035)*(1+u);
 var sp=A*exp(-(d*d)/(s*s));var k=Math.max(0,(x+0.49)/0.1),sg=0.21*Math.max(0.25,1-0.75*k*k),q=u/sg;
 var sh=exp(-q*q*q*q)*tab(SH,x)*Math.min(1,Math.max(0,1-(x+0.43)/0.06));var bg=0.075*exp(-Math.pow((x+0.23)/0.17,4))*exp(-Math.pow(u/0.42,4));return sp+Math.max(sh,bg)*(1-sp);}
function B8(x,u){var d=x+1.47,s=d<0?0.25:0.31,c=cos(PI*u/2),h=u/0.5,e=d/0.42;return Math.max(0.125*c*c*c*exp(-(d*d)/(s*s)),0.055*exp(-h*h*h*h-e*e*e*e));}
function E8(x,u){var A=0.39*exp(-(u/0.29)*(u/0.29)),xc=-1.968,d=x-xc,s=d>0?0.165:0.045;return A*exp(-(d*d)/(s*s));}
function modB(x,t){var ue=ud(t),uo=1-ue;
 var r=D8(x,uo)+D8(-x,uo)+S8(x,ue)+S8(-x,ue)+B8(x,ue)+B8(-x,ue)+E8(x,uo)+E8(-x,uo);
 r+=0.55*exp(-(2-abs(x))/0.01);return r;}
function paint(id,left,top,px0,px1,py0,py1,fn){
 var cv=document.getElementById(id),ctx=cv.getContext('2d'),w=cv.width,h=cv.height,im=ctx.createImageData(w,h),D=im.data;
 for(var j=0;j<h;j++){var py=top+j+0.5,t=(py0-py)/(py0-py1)*4;
  for(var i=0;i<w;i++){var px=left+i+0.5,x=-2+(px-px0)/(px1-px0)*4;
   var v=fn(x,t),c=cm(v),k=(j*w+i)*4;D[k]=c[1];D[k+1]=c[2];D[k+2]=c[3];D[k+3]=255;}}
 ctx.putImageData(im,0,0);}
paint('ha',105,9,105.5,686.6,389.5,9.9,modA);
paint('hb',922,10,922.1,1503.9,389.2,10.3,modB);
})();

</script>
</body></html>
